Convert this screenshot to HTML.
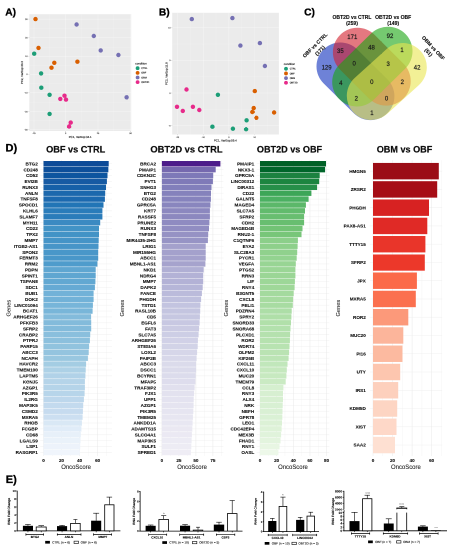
<!DOCTYPE html>
<html><head><meta charset="utf-8"><title>Figure</title>
<style>
html,body{margin:0;padding:0;background:#fff;overflow:hidden;}#wrap{position:relative;width:451px;height:550px;overflow:hidden;}svg.ss{position:absolute;left:0;top:0;display:block;font-family:"Liberation Sans", sans-serif;transform-origin:0 0;transform:scale(0.5);will-change:transform;}
</style></head>
<body>
<div id="wrap"><svg width="902" height="1100" viewBox="0 0 451 550" class="ss">
<defs><filter id="soft" x="0" y="0" width="451" height="550" filterUnits="userSpaceOnUse"><feGaussianBlur stdDeviation="0.38"/></filter></defs>
<rect width="451" height="550" fill="#fff"/>
<g filter="url(#soft)">
<rect width="451" height="550" fill="#fff"/>
<text x="5.30" y="15.70" font-size="10.2" font-weight="bold" text-anchor="start" fill="#000" stroke="#000" stroke-width="0.3">A)</text>
<text x="158.90" y="15.70" font-size="10.2" font-weight="bold" text-anchor="start" fill="#000" stroke="#000" stroke-width="0.3">B)</text>
<text x="304.10" y="15.70" font-size="10.2" font-weight="bold" text-anchor="start" fill="#000" stroke="#000" stroke-width="0.3">C)</text>
<text x="5.50" y="151.40" font-size="11.0" font-weight="bold" text-anchor="start" fill="#000" stroke="#000" stroke-width="0.3">D)</text>
<text x="5.80" y="482.80" font-size="11.0" font-weight="bold" text-anchor="start" fill="#000" stroke="#000" stroke-width="0.3">E)</text>
<rect x="29.3" y="14.2" width="101.90" height="116.80" fill="#ebebeb"/>
<line x1="29.3" x2="131.2" y1="19.10" y2="19.10" stroke="#fff" stroke-width="0.28"/>
<line x1="29.3" x2="131.2" y1="37.80" y2="37.80" stroke="#fff" stroke-width="0.28"/>
<line x1="29.3" x2="131.2" y1="56.20" y2="56.20" stroke="#fff" stroke-width="0.28"/>
<line x1="29.3" x2="131.2" y1="74.40" y2="74.40" stroke="#fff" stroke-width="0.28"/>
<line x1="29.3" x2="131.2" y1="92.80" y2="92.80" stroke="#fff" stroke-width="0.28"/>
<line x1="29.3" x2="131.2" y1="111.50" y2="111.50" stroke="#fff" stroke-width="0.28"/>
<line x1="29.3" x2="131.2" y1="129.70" y2="129.70" stroke="#fff" stroke-width="0.28"/>
<line x1="29.3" x2="131.2" y1="28.45" y2="28.45" stroke="#fff" stroke-width="0.14"/>
<line x1="29.3" x2="131.2" y1="47.15" y2="47.15" stroke="#fff" stroke-width="0.14"/>
<line x1="29.3" x2="131.2" y1="65.55" y2="65.55" stroke="#fff" stroke-width="0.14"/>
<line x1="29.3" x2="131.2" y1="83.75" y2="83.75" stroke="#fff" stroke-width="0.14"/>
<line x1="29.3" x2="131.2" y1="102.15" y2="102.15" stroke="#fff" stroke-width="0.14"/>
<line x1="29.3" x2="131.2" y1="120.85" y2="120.85" stroke="#fff" stroke-width="0.14"/>
<line y1="14.2" y2="131.0" x1="34.00" x2="34.00" stroke="#fff" stroke-width="0.28"/>
<line y1="14.2" y2="131.0" x1="65.60" x2="65.60" stroke="#fff" stroke-width="0.28"/>
<line y1="14.2" y2="131.0" x1="98.00" x2="98.00" stroke="#fff" stroke-width="0.28"/>
<line y1="14.2" y2="131.0" x1="130.60" x2="130.60" stroke="#fff" stroke-width="0.28"/>
<line y1="14.2" y2="131.0" x1="49.80" x2="49.80" stroke="#fff" stroke-width="0.14"/>
<line y1="14.2" y2="131.0" x1="81.40" x2="81.40" stroke="#fff" stroke-width="0.14"/>
<line y1="14.2" y2="131.0" x1="113.80" x2="113.80" stroke="#fff" stroke-width="0.14"/>
<circle cx="35.5" cy="19.1" r="2.2" fill="#d95f02"/>
<circle cx="38.5" cy="47.9" r="2.2" fill="#d95f02"/>
<circle cx="54.3" cy="62.8" r="2.2" fill="#d95f02"/>
<circle cx="51.5" cy="67.7" r="2.2" fill="#d95f02"/>
<circle cx="77.4" cy="61.7" r="2.2" fill="#d95f02"/>
<circle cx="76.6" cy="24.5" r="2.2" fill="#7570b3"/>
<circle cx="93.8" cy="36.0" r="2.2" fill="#7570b3"/>
<circle cx="100.7" cy="50.4" r="2.2" fill="#7570b3"/>
<circle cx="118.4" cy="55.0" r="2.2" fill="#7570b3"/>
<circle cx="126.6" cy="97.3" r="2.2" fill="#7570b3"/>
<circle cx="34.2" cy="53.7" r="2.2" fill="#1b9e77"/>
<circle cx="41.1" cy="73.4" r="2.2" fill="#1b9e77"/>
<circle cx="41.3" cy="87.7" r="2.2" fill="#1b9e77"/>
<circle cx="49.6" cy="94.8" r="2.2" fill="#1b9e77"/>
<circle cx="49.6" cy="113.9" r="2.2" fill="#1b9e77"/>
<circle cx="64.5" cy="95.7" r="2.2" fill="#e7298a"/>
<circle cx="60.3" cy="98.9" r="2.2" fill="#e7298a"/>
<circle cx="66.0" cy="99.6" r="2.2" fill="#e7298a"/>
<circle cx="70.7" cy="122.6" r="2.2" fill="#e7298a"/>
<circle cx="69.1" cy="126.5" r="2.2" fill="#e7298a"/>
<text x="27.60" y="19.89" font-size="2.2" font-weight="normal" text-anchor="end" fill="#333" stroke="#333" stroke-width="0.08" text-rendering="geometricPrecision">30</text>
<line x1="28.6" x2="29.3" y1="19.1" y2="19.1" stroke="#555" stroke-width="0.25"/>
<text x="27.60" y="38.59" font-size="2.2" font-weight="normal" text-anchor="end" fill="#333" stroke="#333" stroke-width="0.08" text-rendering="geometricPrecision">20</text>
<line x1="28.6" x2="29.3" y1="37.8" y2="37.8" stroke="#555" stroke-width="0.25"/>
<text x="27.60" y="56.99" font-size="2.2" font-weight="normal" text-anchor="end" fill="#333" stroke="#333" stroke-width="0.08" text-rendering="geometricPrecision">10</text>
<line x1="28.6" x2="29.3" y1="56.2" y2="56.2" stroke="#555" stroke-width="0.25"/>
<text x="27.60" y="75.19" font-size="2.2" font-weight="normal" text-anchor="end" fill="#333" stroke="#333" stroke-width="0.08" text-rendering="geometricPrecision">0</text>
<line x1="28.6" x2="29.3" y1="74.4" y2="74.4" stroke="#555" stroke-width="0.25"/>
<text x="27.60" y="93.59" font-size="2.2" font-weight="normal" text-anchor="end" fill="#333" stroke="#333" stroke-width="0.08" text-rendering="geometricPrecision">-10</text>
<line x1="28.6" x2="29.3" y1="92.8" y2="92.8" stroke="#555" stroke-width="0.25"/>
<text x="27.60" y="112.29" font-size="2.2" font-weight="normal" text-anchor="end" fill="#333" stroke="#333" stroke-width="0.08" text-rendering="geometricPrecision">-20</text>
<line x1="28.6" x2="29.3" y1="111.5" y2="111.5" stroke="#555" stroke-width="0.25"/>
<text x="27.60" y="130.49" font-size="2.2" font-weight="normal" text-anchor="end" fill="#333" stroke="#333" stroke-width="0.08" text-rendering="geometricPrecision">-30</text>
<line x1="28.6" x2="29.3" y1="129.7" y2="129.7" stroke="#555" stroke-width="0.25"/>
<text x="34.00" y="134.09" font-size="2.2" font-weight="normal" text-anchor="middle" fill="#333" stroke="#333" stroke-width="0.08" text-rendering="geometricPrecision">-25</text>
<line y1="131.7" y2="131.0" x1="34" x2="34" stroke="#555" stroke-width="0.25"/>
<text x="65.60" y="134.09" font-size="2.2" font-weight="normal" text-anchor="middle" fill="#333" stroke="#333" stroke-width="0.08" text-rendering="geometricPrecision">0</text>
<line y1="131.7" y2="131.0" x1="65.6" x2="65.6" stroke="#555" stroke-width="0.25"/>
<text x="98.00" y="134.09" font-size="2.2" font-weight="normal" text-anchor="middle" fill="#333" stroke="#333" stroke-width="0.08" text-rendering="geometricPrecision">25</text>
<line y1="131.7" y2="131.0" x1="98" x2="98" stroke="#555" stroke-width="0.25"/>
<text x="130.60" y="134.09" font-size="2.2" font-weight="normal" text-anchor="middle" fill="#333" stroke="#333" stroke-width="0.08" text-rendering="geometricPrecision">50</text>
<line y1="131.7" y2="131.0" x1="130.6" x2="130.6" stroke="#555" stroke-width="0.25"/>
<text x="80.20" y="138.24" font-size="2.9" font-weight="normal" text-anchor="middle" fill="#111" stroke="#111" stroke-width="0.1" text-rendering="geometricPrecision">PC1, VarExp:34.1</text>
<text x="23.20" y="72.60" font-size="2.9" font-weight="normal" text-anchor="middle" fill="#111" transform="rotate(-90 23.20 72.60)" stroke="#111" stroke-width="0.1" text-rendering="geometricPrecision">PC2, VarExp:30.3</text>
<text x="135.30" y="64.42" font-size="2.85" font-weight="normal" text-anchor="start" fill="#111" stroke="#111" stroke-width="0.1" text-rendering="geometricPrecision">condition</text>
<circle cx="137.6" cy="68.20" r="1.9" fill="#1b9e77"/>
<text x="141.30" y="69.06" font-size="2.4" font-weight="normal" text-anchor="start" fill="#111" stroke="#111" stroke-width="0.1" text-rendering="geometricPrecision">CTRL</text>
<circle cx="137.6" cy="72.85" r="1.9" fill="#d95f02"/>
<text x="141.30" y="73.71" font-size="2.4" font-weight="normal" text-anchor="start" fill="#111" stroke="#111" stroke-width="0.1" text-rendering="geometricPrecision">OBF</text>
<circle cx="137.6" cy="77.50" r="1.9" fill="#7570b3"/>
<text x="141.30" y="78.36" font-size="2.4" font-weight="normal" text-anchor="start" fill="#111" stroke="#111" stroke-width="0.1" text-rendering="geometricPrecision">OBM</text>
<circle cx="137.6" cy="82.15" r="1.9" fill="#e7298a"/>
<text x="141.30" y="83.01" font-size="2.4" font-weight="normal" text-anchor="start" fill="#111" stroke="#111" stroke-width="0.1" text-rendering="geometricPrecision">OBT2D</text>
<rect x="172.2" y="12.8" width="106.70" height="121.70" fill="#ebebeb"/>
<line x1="172.2" x2="278.9" y1="27.80" y2="27.80" stroke="#fff" stroke-width="0.28"/>
<line x1="172.2" x2="278.9" y1="60.30" y2="60.30" stroke="#fff" stroke-width="0.28"/>
<line x1="172.2" x2="278.9" y1="93.00" y2="93.00" stroke="#fff" stroke-width="0.28"/>
<line x1="172.2" x2="278.9" y1="125.60" y2="125.60" stroke="#fff" stroke-width="0.28"/>
<line x1="172.2" x2="278.9" y1="44.05" y2="44.05" stroke="#fff" stroke-width="0.14"/>
<line x1="172.2" x2="278.9" y1="76.55" y2="76.55" stroke="#fff" stroke-width="0.14"/>
<line x1="172.2" x2="278.9" y1="109.25" y2="109.25" stroke="#fff" stroke-width="0.14"/>
<line y1="12.8" y2="134.5" x1="177.50" x2="177.50" stroke="#fff" stroke-width="0.28"/>
<line y1="12.8" y2="134.5" x1="203.20" x2="203.20" stroke="#fff" stroke-width="0.28"/>
<line y1="12.8" y2="134.5" x1="228.90" x2="228.90" stroke="#fff" stroke-width="0.28"/>
<line y1="12.8" y2="134.5" x1="254.60" x2="254.60" stroke="#fff" stroke-width="0.28"/>
<line y1="12.8" y2="134.5" x1="190.35" x2="190.35" stroke="#fff" stroke-width="0.14"/>
<line y1="12.8" y2="134.5" x1="216.05" x2="216.05" stroke="#fff" stroke-width="0.14"/>
<line y1="12.8" y2="134.5" x1="241.75" x2="241.75" stroke="#fff" stroke-width="0.14"/>
<line y1="12.8" y2="134.5" x1="267.45" x2="267.45" stroke="#fff" stroke-width="0.14"/>
<circle cx="191.8" cy="19.1" r="2.2" fill="#7570b3"/>
<circle cx="232.4" cy="18.1" r="2.2" fill="#7570b3"/>
<circle cx="240.4" cy="45.6" r="2.2" fill="#7570b3"/>
<circle cx="259.9" cy="43.1" r="2.2" fill="#7570b3"/>
<circle cx="264.9" cy="66.0" r="2.2" fill="#7570b3"/>
<circle cx="186.5" cy="89.5" r="2.2" fill="#e7298a"/>
<circle cx="177.0" cy="106.8" r="2.2" fill="#e7298a"/>
<circle cx="182.8" cy="110.9" r="2.2" fill="#e7298a"/>
<circle cx="192.9" cy="106.8" r="2.2" fill="#e7298a"/>
<circle cx="199.3" cy="110.0" r="2.2" fill="#e7298a"/>
<circle cx="217.9" cy="94.8" r="2.2" fill="#1b9e77"/>
<circle cx="212.4" cy="126.7" r="2.2" fill="#1b9e77"/>
<circle cx="246.6" cy="120.3" r="2.2" fill="#1b9e77"/>
<circle cx="232.9" cy="128.7" r="2.2" fill="#1b9e77"/>
<circle cx="246.1" cy="129.2" r="2.2" fill="#1b9e77"/>
<circle cx="254.8" cy="91.1" r="2.2" fill="#d95f02"/>
<circle cx="253.7" cy="108.1" r="2.2" fill="#d95f02"/>
<circle cx="252.3" cy="112.0" r="2.2" fill="#d95f02"/>
<circle cx="256.3" cy="117.8" r="2.2" fill="#d95f02"/>
<circle cx="274.1" cy="112.5" r="2.2" fill="#d95f02"/>
<text x="170.60" y="28.59" font-size="2.2" font-weight="normal" text-anchor="end" fill="#333" stroke="#333" stroke-width="0.08" text-rendering="geometricPrecision">10</text>
<line x1="171.5" x2="172.2" y1="27.8" y2="27.8" stroke="#555" stroke-width="0.25"/>
<text x="170.60" y="61.09" font-size="2.2" font-weight="normal" text-anchor="end" fill="#333" stroke="#333" stroke-width="0.08" text-rendering="geometricPrecision">5</text>
<line x1="171.5" x2="172.2" y1="60.3" y2="60.3" stroke="#555" stroke-width="0.25"/>
<text x="170.60" y="93.79" font-size="2.2" font-weight="normal" text-anchor="end" fill="#333" stroke="#333" stroke-width="0.08" text-rendering="geometricPrecision">0</text>
<line x1="171.5" x2="172.2" y1="93.0" y2="93.0" stroke="#555" stroke-width="0.25"/>
<text x="170.60" y="126.39" font-size="2.2" font-weight="normal" text-anchor="end" fill="#333" stroke="#333" stroke-width="0.08" text-rendering="geometricPrecision">-5</text>
<line x1="171.5" x2="172.2" y1="125.6" y2="125.6" stroke="#555" stroke-width="0.25"/>
<text x="177.50" y="138.09" font-size="2.2" font-weight="normal" text-anchor="middle" fill="#333" stroke="#333" stroke-width="0.08" text-rendering="geometricPrecision">-20</text>
<line y1="135.2" y2="134.5" x1="177.5" x2="177.5" stroke="#555" stroke-width="0.25"/>
<text x="203.20" y="138.09" font-size="2.2" font-weight="normal" text-anchor="middle" fill="#333" stroke="#333" stroke-width="0.08" text-rendering="geometricPrecision">-10</text>
<line y1="135.2" y2="134.5" x1="203.2" x2="203.2" stroke="#555" stroke-width="0.25"/>
<text x="228.90" y="138.09" font-size="2.2" font-weight="normal" text-anchor="middle" fill="#333" stroke="#333" stroke-width="0.08" text-rendering="geometricPrecision">0</text>
<line y1="135.2" y2="134.5" x1="228.9" x2="228.9" stroke="#555" stroke-width="0.25"/>
<text x="254.60" y="138.09" font-size="2.2" font-weight="normal" text-anchor="middle" fill="#333" stroke="#333" stroke-width="0.08" text-rendering="geometricPrecision">10</text>
<line y1="135.2" y2="134.5" x1="254.6" x2="254.6" stroke="#555" stroke-width="0.25"/>
<text x="225.30" y="141.44" font-size="2.9" font-weight="normal" text-anchor="middle" fill="#111" stroke="#111" stroke-width="0.1" text-rendering="geometricPrecision">PC1, VarExp:59.4</text>
<text x="167.30" y="73.65" font-size="2.9" font-weight="normal" text-anchor="middle" fill="#111" transform="rotate(-90 167.30 73.65)" stroke="#111" stroke-width="0.1" text-rendering="geometricPrecision">PC2, VarExp:11.8</text>
<text x="283.70" y="65.02" font-size="2.85" font-weight="normal" text-anchor="start" fill="#111" stroke="#111" stroke-width="0.1" text-rendering="geometricPrecision">condition</text>
<circle cx="286.0" cy="68.80" r="1.9" fill="#1b9e77"/>
<text x="289.70" y="69.66" font-size="2.4" font-weight="normal" text-anchor="start" fill="#111" stroke="#111" stroke-width="0.1" text-rendering="geometricPrecision">CTRL</text>
<circle cx="286.0" cy="73.45" r="1.9" fill="#d95f02"/>
<text x="289.70" y="74.31" font-size="2.4" font-weight="normal" text-anchor="start" fill="#111" stroke="#111" stroke-width="0.1" text-rendering="geometricPrecision">OBF</text>
<circle cx="286.0" cy="78.10" r="1.9" fill="#7570b3"/>
<text x="289.70" y="78.96" font-size="2.4" font-weight="normal" text-anchor="start" fill="#111" stroke="#111" stroke-width="0.1" text-rendering="geometricPrecision">OBM</text>
<circle cx="286.0" cy="82.75" r="1.9" fill="#e7298a"/>
<text x="289.70" y="83.61" font-size="2.4" font-weight="normal" text-anchor="start" fill="#111" stroke="#111" stroke-width="0.1" text-rendering="geometricPrecision">OBT2D</text>
<rect x="310.37" y="57.40" width="90.16" height="47.8" rx="23.9" ry="23.9" transform="rotate(44.71 355.45 81.30)" fill="#0d2fbc" fill-opacity="0.6"/>
<rect x="326.94" y="42.20" width="89.73" height="49.0" rx="24.5" ry="24.5" transform="rotate(45.00 371.80 66.70)" fill="#d21e2b" fill-opacity="0.6"/>
<rect x="325.89" y="42.10" width="92.91" height="49.0" rx="24.5" ry="24.5" transform="rotate(135.46 372.35 66.60)" fill="#19a50f" fill-opacity="0.6"/>
<rect x="341.29" y="57.30" width="91.02" height="48.4" rx="24.2" ry="24.2" transform="rotate(137.85 386.80 81.50)" fill="#e9e650" fill-opacity="0.6"/>
<text x="352.30" y="38.85" font-size="6.0" font-weight="normal" text-anchor="middle" fill="#1a1a1a" stroke="#1a1a1a" stroke-width="0.18">171</text>
<text x="390.00" y="38.15" font-size="6.0" font-weight="normal" text-anchor="middle" fill="#1a1a1a" stroke="#1a1a1a" stroke-width="0.18">92</text>
<text x="340.40" y="53.05" font-size="6.0" font-weight="normal" text-anchor="middle" fill="#1a1a1a" stroke="#1a1a1a" stroke-width="0.18">35</text>
<text x="371.50" y="49.65" font-size="6.0" font-weight="normal" text-anchor="middle" fill="#1a1a1a" stroke="#1a1a1a" stroke-width="0.18">48</text>
<text x="402.00" y="51.75" font-size="6.0" font-weight="normal" text-anchor="middle" fill="#1a1a1a" stroke="#1a1a1a" stroke-width="0.18">1</text>
<text x="326.60" y="69.55" font-size="6.0" font-weight="normal" text-anchor="middle" fill="#1a1a1a" stroke="#1a1a1a" stroke-width="0.18">129</text>
<text x="354.20" y="65.25" font-size="6.0" font-weight="normal" text-anchor="middle" fill="#1a1a1a" stroke="#1a1a1a" stroke-width="0.18">0</text>
<text x="388.20" y="65.85" font-size="6.0" font-weight="normal" text-anchor="middle" fill="#1a1a1a" stroke="#1a1a1a" stroke-width="0.18">3</text>
<text x="417.10" y="69.55" font-size="6.0" font-weight="normal" text-anchor="middle" fill="#1a1a1a" stroke="#1a1a1a" stroke-width="0.18">42</text>
<text x="340.80" y="84.75" font-size="6.0" font-weight="normal" text-anchor="middle" fill="#1a1a1a" stroke="#1a1a1a" stroke-width="0.18">4</text>
<text x="371.80" y="83.95" font-size="6.0" font-weight="normal" text-anchor="middle" fill="#1a1a1a" stroke="#1a1a1a" stroke-width="0.18">0</text>
<text x="402.30" y="83.85" font-size="6.0" font-weight="normal" text-anchor="middle" fill="#1a1a1a" stroke="#1a1a1a" stroke-width="0.18">2</text>
<text x="356.30" y="100.55" font-size="6.0" font-weight="normal" text-anchor="middle" fill="#1a1a1a" stroke="#1a1a1a" stroke-width="0.18">2</text>
<text x="386.50" y="100.55" font-size="6.0" font-weight="normal" text-anchor="middle" fill="#1a1a1a" stroke="#1a1a1a" stroke-width="0.18">0</text>
<text x="371.90" y="114.75" font-size="6.0" font-weight="normal" text-anchor="middle" fill="#1a1a1a" stroke="#1a1a1a" stroke-width="0.18">1</text>
<text x="352.00" y="19.01" font-size="5.05" font-weight="bold" text-anchor="middle" fill="#111" stroke="#111" stroke-width="0.12">OBT2D vs CTRL</text>
<text x="352.00" y="24.81" font-size="5.05" font-weight="bold" text-anchor="middle" fill="#111" stroke="#111" stroke-width="0.12">(259)</text>
<text x="393.20" y="19.01" font-size="5.05" font-weight="bold" text-anchor="middle" fill="#111" stroke="#111" stroke-width="0.12">OBT2D vs OBF</text>
<text x="393.20" y="24.81" font-size="5.05" font-weight="bold" text-anchor="middle" fill="#111" stroke="#111" stroke-width="0.12">(149)</text>
<text x="0" y="1.81" font-size="5.05" font-weight="bold" text-anchor="middle" fill="#111" stroke="#111" stroke-width="0.12" transform="translate(315.0 45.2) rotate(-45)">OBF vs CTRL</text>
<text x="0" y="1.81" font-size="5.05" font-weight="bold" text-anchor="middle" fill="#111" stroke="#111" stroke-width="0.12" transform="translate(319.9 50.5) rotate(-45)">(171)</text>
<text x="0" y="1.81" font-size="5.05" font-weight="bold" text-anchor="middle" fill="#111" stroke="#111" stroke-width="0.12" transform="translate(433.4 47.9) rotate(47)">OBM vs OBF</text>
<text x="0" y="1.81" font-size="5.05" font-weight="bold" text-anchor="middle" fill="#111" stroke="#111" stroke-width="0.12" transform="translate(428.6 52.3) rotate(47)">(51)</text>
<text x="75.70" y="152.49" font-size="9.2" font-weight="bold" text-anchor="middle" fill="#111" stroke="#111" stroke-width="0.2">OBF vs CTRL</text>
<line x1="43.50" x2="43.50" y1="160.2" y2="456.0" stroke="#e4e4e4" stroke-width="0.4"/>
<line x1="52.52" x2="52.52" y1="160.2" y2="456.0" stroke="#ececec" stroke-width="0.25"/>
<text x="43.50" y="462.05" font-size="4.6" font-weight="bold" text-anchor="middle" fill="#111" stroke="#111" stroke-width="0.1">0</text>
<line x1="61.55" x2="61.55" y1="160.2" y2="456.0" stroke="#e4e4e4" stroke-width="0.4"/>
<line x1="70.58" x2="70.58" y1="160.2" y2="456.0" stroke="#ececec" stroke-width="0.25"/>
<text x="61.55" y="462.05" font-size="4.6" font-weight="bold" text-anchor="middle" fill="#111" stroke="#111" stroke-width="0.1">20</text>
<line x1="79.60" x2="79.60" y1="160.2" y2="456.0" stroke="#e4e4e4" stroke-width="0.4"/>
<line x1="88.62" x2="88.62" y1="160.2" y2="456.0" stroke="#ececec" stroke-width="0.25"/>
<text x="79.60" y="462.05" font-size="4.6" font-weight="bold" text-anchor="middle" fill="#111" stroke="#111" stroke-width="0.1">40</text>
<line x1="97.65" x2="97.65" y1="160.2" y2="456.0" stroke="#e4e4e4" stroke-width="0.4"/>
<line x1="106.68" x2="106.68" y1="160.2" y2="456.0" stroke="#ececec" stroke-width="0.25"/>
<text x="97.65" y="462.05" font-size="4.6" font-weight="bold" text-anchor="middle" fill="#111" stroke="#111" stroke-width="0.1">60</text>
<line x1="40.24" x2="111.96" y1="163.74" y2="163.74" stroke="#e8e8e8" stroke-width="0.3"/>
<line x1="40.24" x2="111.96" y1="169.63" y2="169.63" stroke="#e8e8e8" stroke-width="0.3"/>
<line x1="40.24" x2="111.96" y1="175.52" y2="175.52" stroke="#e8e8e8" stroke-width="0.3"/>
<line x1="40.24" x2="111.96" y1="181.41" y2="181.41" stroke="#e8e8e8" stroke-width="0.3"/>
<line x1="40.24" x2="111.96" y1="187.31" y2="187.31" stroke="#e8e8e8" stroke-width="0.3"/>
<line x1="40.24" x2="111.96" y1="193.20" y2="193.20" stroke="#e8e8e8" stroke-width="0.3"/>
<line x1="40.24" x2="111.96" y1="199.09" y2="199.09" stroke="#e8e8e8" stroke-width="0.3"/>
<line x1="40.24" x2="111.96" y1="204.98" y2="204.98" stroke="#e8e8e8" stroke-width="0.3"/>
<line x1="40.24" x2="111.96" y1="210.87" y2="210.87" stroke="#e8e8e8" stroke-width="0.3"/>
<line x1="40.24" x2="111.96" y1="216.77" y2="216.77" stroke="#e8e8e8" stroke-width="0.3"/>
<line x1="40.24" x2="111.96" y1="222.66" y2="222.66" stroke="#e8e8e8" stroke-width="0.3"/>
<line x1="40.24" x2="111.96" y1="228.55" y2="228.55" stroke="#e8e8e8" stroke-width="0.3"/>
<line x1="40.24" x2="111.96" y1="234.44" y2="234.44" stroke="#e8e8e8" stroke-width="0.3"/>
<line x1="40.24" x2="111.96" y1="240.34" y2="240.34" stroke="#e8e8e8" stroke-width="0.3"/>
<line x1="40.24" x2="111.96" y1="246.23" y2="246.23" stroke="#e8e8e8" stroke-width="0.3"/>
<line x1="40.24" x2="111.96" y1="252.12" y2="252.12" stroke="#e8e8e8" stroke-width="0.3"/>
<line x1="40.24" x2="111.96" y1="258.01" y2="258.01" stroke="#e8e8e8" stroke-width="0.3"/>
<line x1="40.24" x2="111.96" y1="263.91" y2="263.91" stroke="#e8e8e8" stroke-width="0.3"/>
<line x1="40.24" x2="111.96" y1="269.80" y2="269.80" stroke="#e8e8e8" stroke-width="0.3"/>
<line x1="40.24" x2="111.96" y1="275.69" y2="275.69" stroke="#e8e8e8" stroke-width="0.3"/>
<line x1="40.24" x2="111.96" y1="281.58" y2="281.58" stroke="#e8e8e8" stroke-width="0.3"/>
<line x1="40.24" x2="111.96" y1="287.48" y2="287.48" stroke="#e8e8e8" stroke-width="0.3"/>
<line x1="40.24" x2="111.96" y1="293.37" y2="293.37" stroke="#e8e8e8" stroke-width="0.3"/>
<line x1="40.24" x2="111.96" y1="299.26" y2="299.26" stroke="#e8e8e8" stroke-width="0.3"/>
<line x1="40.24" x2="111.96" y1="305.15" y2="305.15" stroke="#e8e8e8" stroke-width="0.3"/>
<line x1="40.24" x2="111.96" y1="311.05" y2="311.05" stroke="#e8e8e8" stroke-width="0.3"/>
<line x1="40.24" x2="111.96" y1="316.94" y2="316.94" stroke="#e8e8e8" stroke-width="0.3"/>
<line x1="40.24" x2="111.96" y1="322.83" y2="322.83" stroke="#e8e8e8" stroke-width="0.3"/>
<line x1="40.24" x2="111.96" y1="328.72" y2="328.72" stroke="#e8e8e8" stroke-width="0.3"/>
<line x1="40.24" x2="111.96" y1="334.62" y2="334.62" stroke="#e8e8e8" stroke-width="0.3"/>
<line x1="40.24" x2="111.96" y1="340.51" y2="340.51" stroke="#e8e8e8" stroke-width="0.3"/>
<line x1="40.24" x2="111.96" y1="346.40" y2="346.40" stroke="#e8e8e8" stroke-width="0.3"/>
<line x1="40.24" x2="111.96" y1="352.29" y2="352.29" stroke="#e8e8e8" stroke-width="0.3"/>
<line x1="40.24" x2="111.96" y1="358.19" y2="358.19" stroke="#e8e8e8" stroke-width="0.3"/>
<line x1="40.24" x2="111.96" y1="364.08" y2="364.08" stroke="#e8e8e8" stroke-width="0.3"/>
<line x1="40.24" x2="111.96" y1="369.97" y2="369.97" stroke="#e8e8e8" stroke-width="0.3"/>
<line x1="40.24" x2="111.96" y1="375.86" y2="375.86" stroke="#e8e8e8" stroke-width="0.3"/>
<line x1="40.24" x2="111.96" y1="381.76" y2="381.76" stroke="#e8e8e8" stroke-width="0.3"/>
<line x1="40.24" x2="111.96" y1="387.65" y2="387.65" stroke="#e8e8e8" stroke-width="0.3"/>
<line x1="40.24" x2="111.96" y1="393.54" y2="393.54" stroke="#e8e8e8" stroke-width="0.3"/>
<line x1="40.24" x2="111.96" y1="399.43" y2="399.43" stroke="#e8e8e8" stroke-width="0.3"/>
<line x1="40.24" x2="111.96" y1="405.33" y2="405.33" stroke="#e8e8e8" stroke-width="0.3"/>
<line x1="40.24" x2="111.96" y1="411.22" y2="411.22" stroke="#e8e8e8" stroke-width="0.3"/>
<line x1="40.24" x2="111.96" y1="417.11" y2="417.11" stroke="#e8e8e8" stroke-width="0.3"/>
<line x1="40.24" x2="111.96" y1="423.00" y2="423.00" stroke="#e8e8e8" stroke-width="0.3"/>
<line x1="40.24" x2="111.96" y1="428.89" y2="428.89" stroke="#e8e8e8" stroke-width="0.3"/>
<line x1="40.24" x2="111.96" y1="434.79" y2="434.79" stroke="#e8e8e8" stroke-width="0.3"/>
<line x1="40.24" x2="111.96" y1="440.68" y2="440.68" stroke="#e8e8e8" stroke-width="0.3"/>
<line x1="40.24" x2="111.96" y1="446.57" y2="446.57" stroke="#e8e8e8" stroke-width="0.3"/>
<line x1="40.24" x2="111.96" y1="452.46" y2="452.46" stroke="#e8e8e8" stroke-width="0.3"/>
<rect x="43.50" y="161.01" width="65.20" height="5.45" fill="#0a4c98"/>
<text x="37.80" y="165.38" font-size="4.6" font-weight="bold" text-anchor="end" fill="#111" stroke="#111" stroke-width="0.1">BTG2</text>
<rect x="43.50" y="166.90" width="64.85" height="5.45" fill="#0c4f9a"/>
<text x="37.80" y="171.27" font-size="4.6" font-weight="bold" text-anchor="end" fill="#111" stroke="#111" stroke-width="0.1">CD248</text>
<rect x="43.50" y="172.80" width="64.00" height="5.45" fill="#10559f"/>
<text x="37.80" y="177.17" font-size="4.6" font-weight="bold" text-anchor="end" fill="#111" stroke="#111" stroke-width="0.1">CD52</text>
<rect x="43.50" y="178.69" width="63.40" height="5.45" fill="#135aa3"/>
<text x="37.80" y="183.06" font-size="4.6" font-weight="bold" text-anchor="end" fill="#111" stroke="#111" stroke-width="0.1">EVI2B</text>
<rect x="43.50" y="184.58" width="62.50" height="5.45" fill="#1761a8"/>
<text x="37.80" y="188.95" font-size="4.6" font-weight="bold" text-anchor="end" fill="#111" stroke="#111" stroke-width="0.1">RUNX3</text>
<rect x="43.50" y="190.47" width="61.70" height="5.45" fill="#1b67ad"/>
<text x="37.80" y="194.84" font-size="4.6" font-weight="bold" text-anchor="end" fill="#111" stroke="#111" stroke-width="0.1">ANLN</text>
<rect x="43.50" y="196.36" width="61.40" height="5.45" fill="#1c69af"/>
<text x="37.80" y="200.74" font-size="4.6" font-weight="bold" text-anchor="end" fill="#111" stroke="#111" stroke-width="0.1">TNFSF8</text>
<rect x="43.50" y="202.26" width="60.00" height="5.45" fill="#2474b6"/>
<text x="37.80" y="206.63" font-size="4.6" font-weight="bold" text-anchor="end" fill="#111" stroke="#111" stroke-width="0.1">SPOCD1</text>
<rect x="43.50" y="208.15" width="58.90" height="5.45" fill="#2b7bba"/>
<text x="37.80" y="212.52" font-size="4.6" font-weight="bold" text-anchor="end" fill="#111" stroke="#111" stroke-width="0.1">KLHL6</text>
<rect x="43.50" y="214.04" width="58.90" height="5.45" fill="#2b7bba"/>
<text x="37.80" y="218.41" font-size="4.6" font-weight="bold" text-anchor="end" fill="#111" stroke="#111" stroke-width="0.1">SLAMF7</text>
<rect x="43.50" y="219.93" width="56.70" height="5.45" fill="#3a8ac2"/>
<text x="37.80" y="224.31" font-size="4.6" font-weight="bold" text-anchor="end" fill="#111" stroke="#111" stroke-width="0.1">MYH11</text>
<rect x="43.50" y="225.83" width="55.50" height="5.45" fill="#4393c6"/>
<text x="37.80" y="230.20" font-size="4.6" font-weight="bold" text-anchor="end" fill="#111" stroke="#111" stroke-width="0.1">CD22</text>
<rect x="43.50" y="231.72" width="55.50" height="5.45" fill="#4393c6"/>
<text x="37.80" y="236.09" font-size="4.6" font-weight="bold" text-anchor="end" fill="#111" stroke="#111" stroke-width="0.1">TPX2</text>
<rect x="43.50" y="237.61" width="55.20" height="5.45" fill="#4594c7"/>
<text x="37.80" y="241.98" font-size="4.6" font-weight="bold" text-anchor="end" fill="#111" stroke="#111" stroke-width="0.1">MMP7</text>
<rect x="43.50" y="243.50" width="55.00" height="5.45" fill="#4795c8"/>
<text x="37.80" y="247.88" font-size="4.6" font-weight="bold" text-anchor="end" fill="#111" stroke="#111" stroke-width="0.1">ITGB2-AS1</text>
<rect x="43.50" y="249.40" width="54.70" height="5.45" fill="#4a97c9"/>
<text x="37.80" y="253.77" font-size="4.6" font-weight="bold" text-anchor="end" fill="#111" stroke="#111" stroke-width="0.1">SPON2</text>
<rect x="43.50" y="255.29" width="54.70" height="5.45" fill="#4a97c9"/>
<text x="37.80" y="259.66" font-size="4.6" font-weight="bold" text-anchor="end" fill="#111" stroke="#111" stroke-width="0.1">FERMT3</text>
<rect x="43.50" y="261.18" width="53.90" height="5.45" fill="#509ccc"/>
<text x="37.80" y="265.55" font-size="4.6" font-weight="bold" text-anchor="end" fill="#111" stroke="#111" stroke-width="0.1">RRM2</text>
<rect x="43.50" y="267.07" width="52.20" height="5.45" fill="#5fa6d1"/>
<text x="37.80" y="271.45" font-size="4.6" font-weight="bold" text-anchor="end" fill="#111" stroke="#111" stroke-width="0.1">PDPN</text>
<rect x="43.50" y="272.97" width="52.20" height="5.45" fill="#5fa6d1"/>
<text x="37.80" y="277.34" font-size="4.6" font-weight="bold" text-anchor="end" fill="#111" stroke="#111" stroke-width="0.1">SPINT1</text>
<rect x="43.50" y="278.86" width="51.90" height="5.45" fill="#62a8d2"/>
<text x="37.80" y="283.23" font-size="4.6" font-weight="bold" text-anchor="end" fill="#111" stroke="#111" stroke-width="0.1">TSPAN8</text>
<rect x="43.50" y="284.75" width="51.40" height="5.45" fill="#66aad4"/>
<text x="37.80" y="289.12" font-size="4.6" font-weight="bold" text-anchor="end" fill="#111" stroke="#111" stroke-width="0.1">SDC1</text>
<rect x="43.50" y="290.64" width="50.10" height="5.45" fill="#72b2d8"/>
<text x="37.80" y="295.02" font-size="4.6" font-weight="bold" text-anchor="end" fill="#111" stroke="#111" stroke-width="0.1">BUB1</text>
<rect x="43.50" y="296.54" width="50.10" height="5.45" fill="#72b2d8"/>
<text x="37.80" y="300.91" font-size="4.6" font-weight="bold" text-anchor="end" fill="#111" stroke="#111" stroke-width="0.1">DOK2</text>
<rect x="43.50" y="302.43" width="49.40" height="5.45" fill="#77b5d9"/>
<text x="37.80" y="306.80" font-size="4.6" font-weight="bold" text-anchor="end" fill="#111" stroke="#111" stroke-width="0.1">LINC01094</text>
<rect x="43.50" y="308.32" width="49.10" height="5.45" fill="#79b6d9"/>
<text x="37.80" y="312.69" font-size="4.6" font-weight="bold" text-anchor="end" fill="#111" stroke="#111" stroke-width="0.1">BCAT1</text>
<rect x="43.50" y="314.21" width="47.60" height="5.45" fill="#83bbdb"/>
<text x="37.80" y="318.59" font-size="4.6" font-weight="bold" text-anchor="end" fill="#111" stroke="#111" stroke-width="0.1">ARHGEF26</text>
<rect x="43.50" y="320.11" width="47.70" height="5.45" fill="#83bbdb"/>
<text x="37.80" y="324.48" font-size="4.6" font-weight="bold" text-anchor="end" fill="#111" stroke="#111" stroke-width="0.1">PFKFB3</text>
<rect x="43.50" y="326.00" width="47.70" height="5.45" fill="#83bbdb"/>
<text x="37.80" y="330.37" font-size="4.6" font-weight="bold" text-anchor="end" fill="#111" stroke="#111" stroke-width="0.1">SFRP2</text>
<rect x="43.50" y="331.89" width="46.70" height="5.45" fill="#8abfdd"/>
<text x="37.80" y="336.26" font-size="4.6" font-weight="bold" text-anchor="end" fill="#111" stroke="#111" stroke-width="0.1">CRABP2</text>
<rect x="43.50" y="337.78" width="46.40" height="5.45" fill="#8cc0dd"/>
<text x="37.80" y="342.16" font-size="4.6" font-weight="bold" text-anchor="end" fill="#111" stroke="#111" stroke-width="0.1">PTPRJ</text>
<rect x="43.50" y="343.68" width="45.60" height="5.45" fill="#91c3de"/>
<text x="37.80" y="348.05" font-size="4.6" font-weight="bold" text-anchor="end" fill="#111" stroke="#111" stroke-width="0.1">PARP15</text>
<rect x="43.50" y="349.57" width="45.20" height="5.45" fill="#94c4df"/>
<text x="37.80" y="353.94" font-size="4.6" font-weight="bold" text-anchor="end" fill="#111" stroke="#111" stroke-width="0.1">ABCC3</text>
<rect x="43.50" y="355.46" width="44.40" height="5.45" fill="#99c7e0"/>
<text x="37.80" y="359.83" font-size="4.6" font-weight="bold" text-anchor="end" fill="#111" stroke="#111" stroke-width="0.1">NCAPH</text>
<rect x="43.50" y="361.35" width="42.60" height="5.45" fill="#a4cde3"/>
<text x="37.80" y="365.72" font-size="4.6" font-weight="bold" text-anchor="end" fill="#111" stroke="#111" stroke-width="0.1">HAVCR2</text>
<rect x="43.50" y="367.25" width="42.20" height="5.45" fill="#add1e6"/>
<text x="37.80" y="371.62" font-size="4.6" font-weight="bold" text-anchor="end" fill="#111" stroke="#111" stroke-width="0.1">TMEM100</text>
<rect x="43.50" y="373.14" width="41.90" height="5.45" fill="#b1d2e8"/>
<text x="37.80" y="377.51" font-size="4.6" font-weight="bold" text-anchor="end" fill="#111" stroke="#111" stroke-width="0.1">LAPTM5</text>
<rect x="43.50" y="379.03" width="41.40" height="5.45" fill="#b5d4e9"/>
<text x="37.80" y="383.40" font-size="4.6" font-weight="bold" text-anchor="end" fill="#111" stroke="#111" stroke-width="0.1">KCNJ5</text>
<rect x="43.50" y="384.92" width="41.40" height="5.45" fill="#b5d4e9"/>
<text x="37.80" y="389.29" font-size="4.6" font-weight="bold" text-anchor="end" fill="#111" stroke="#111" stroke-width="0.1">AZGP1</text>
<rect x="43.50" y="390.81" width="41.10" height="5.45" fill="#b7d5ea"/>
<text x="37.80" y="395.19" font-size="4.6" font-weight="bold" text-anchor="end" fill="#111" stroke="#111" stroke-width="0.1">PIK3R5</text>
<rect x="43.50" y="396.71" width="40.40" height="5.45" fill="#bdd7ec"/>
<text x="37.80" y="401.08" font-size="4.6" font-weight="bold" text-anchor="end" fill="#111" stroke="#111" stroke-width="0.1">IL2RG</text>
<rect x="43.50" y="402.60" width="39.70" height="5.45" fill="#c3daee"/>
<text x="37.80" y="406.97" font-size="4.6" font-weight="bold" text-anchor="end" fill="#111" stroke="#111" stroke-width="0.1">MAP3K5</text>
<rect x="43.50" y="408.49" width="39.40" height="5.45" fill="#c6dbef"/>
<text x="37.80" y="412.86" font-size="4.6" font-weight="bold" text-anchor="end" fill="#111" stroke="#111" stroke-width="0.1">CSMD2</text>
<rect x="43.50" y="414.38" width="39.10" height="5.45" fill="#ccdff1"/>
<text x="37.80" y="418.76" font-size="4.6" font-weight="bold" text-anchor="end" fill="#111" stroke="#111" stroke-width="0.1">MXRA5</text>
<rect x="43.50" y="420.28" width="38.40" height="5.45" fill="#d9e8f5"/>
<text x="37.80" y="424.65" font-size="4.6" font-weight="bold" text-anchor="end" fill="#111" stroke="#111" stroke-width="0.1">RHOB</text>
<rect x="43.50" y="426.17" width="37.90" height="5.45" fill="#e0ecf8"/>
<text x="37.80" y="430.54" font-size="4.6" font-weight="bold" text-anchor="end" fill="#111" stroke="#111" stroke-width="0.1">FCGBP</text>
<rect x="43.50" y="432.06" width="37.30" height="5.45" fill="#e7f0f9"/>
<text x="37.80" y="436.43" font-size="4.6" font-weight="bold" text-anchor="end" fill="#111" stroke="#111" stroke-width="0.1">CD68</text>
<rect x="43.50" y="437.95" width="37.00" height="5.45" fill="#eaf2fa"/>
<text x="37.80" y="442.33" font-size="4.6" font-weight="bold" text-anchor="end" fill="#111" stroke="#111" stroke-width="0.1">LGALS9</text>
<rect x="43.50" y="443.85" width="36.70" height="5.45" fill="#edf3fb"/>
<text x="37.80" y="448.22" font-size="4.6" font-weight="bold" text-anchor="end" fill="#111" stroke="#111" stroke-width="0.1">LSP1</text>
<rect x="43.50" y="449.74" width="36.40" height="5.45" fill="#f0f5fc"/>
<text x="37.80" y="454.11" font-size="4.6" font-weight="bold" text-anchor="end" fill="#111" stroke="#111" stroke-width="0.1">RASGRP1</text>
<text x="76.10" y="468.93" font-size="5.95" font-weight="normal" text-anchor="middle" fill="#222" stroke="#222" stroke-width="0.08">OncoScore</text>
<text x="10.40" y="308.10" font-size="5.7" font-weight="normal" text-anchor="middle" fill="#222" transform="rotate(-90 10.40 308.10)" stroke="#222" stroke-width="0.08">Genes</text>
<text x="186.50" y="152.55" font-size="9.35" font-weight="bold" text-anchor="middle" fill="#111" stroke="#111" stroke-width="0.2">OBT2D vs CTRL</text>
<line x1="161.90" x2="161.90" y1="160.2" y2="456.0" stroke="#e4e4e4" stroke-width="0.4"/>
<line x1="170.40" x2="170.40" y1="160.2" y2="456.0" stroke="#ececec" stroke-width="0.25"/>
<text x="161.90" y="462.05" font-size="4.6" font-weight="bold" text-anchor="middle" fill="#111" stroke="#111" stroke-width="0.1">0</text>
<line x1="178.90" x2="178.90" y1="160.2" y2="456.0" stroke="#e4e4e4" stroke-width="0.4"/>
<line x1="187.40" x2="187.40" y1="160.2" y2="456.0" stroke="#ececec" stroke-width="0.25"/>
<text x="178.90" y="462.05" font-size="4.6" font-weight="bold" text-anchor="middle" fill="#111" stroke="#111" stroke-width="0.1">25</text>
<line x1="195.90" x2="195.90" y1="160.2" y2="456.0" stroke="#e4e4e4" stroke-width="0.4"/>
<line x1="204.40" x2="204.40" y1="160.2" y2="456.0" stroke="#ececec" stroke-width="0.25"/>
<text x="195.90" y="462.05" font-size="4.6" font-weight="bold" text-anchor="middle" fill="#111" stroke="#111" stroke-width="0.1">50</text>
<line x1="212.90" x2="212.90" y1="160.2" y2="456.0" stroke="#e4e4e4" stroke-width="0.4"/>
<line x1="221.40" x2="221.40" y1="160.2" y2="456.0" stroke="#ececec" stroke-width="0.25"/>
<text x="212.90" y="462.05" font-size="4.6" font-weight="bold" text-anchor="middle" fill="#111" stroke="#111" stroke-width="0.1">75</text>
<line x1="158.97" x2="223.33" y1="163.74" y2="163.74" stroke="#e8e8e8" stroke-width="0.3"/>
<line x1="158.97" x2="223.33" y1="169.63" y2="169.63" stroke="#e8e8e8" stroke-width="0.3"/>
<line x1="158.97" x2="223.33" y1="175.52" y2="175.52" stroke="#e8e8e8" stroke-width="0.3"/>
<line x1="158.97" x2="223.33" y1="181.41" y2="181.41" stroke="#e8e8e8" stroke-width="0.3"/>
<line x1="158.97" x2="223.33" y1="187.31" y2="187.31" stroke="#e8e8e8" stroke-width="0.3"/>
<line x1="158.97" x2="223.33" y1="193.20" y2="193.20" stroke="#e8e8e8" stroke-width="0.3"/>
<line x1="158.97" x2="223.33" y1="199.09" y2="199.09" stroke="#e8e8e8" stroke-width="0.3"/>
<line x1="158.97" x2="223.33" y1="204.98" y2="204.98" stroke="#e8e8e8" stroke-width="0.3"/>
<line x1="158.97" x2="223.33" y1="210.87" y2="210.87" stroke="#e8e8e8" stroke-width="0.3"/>
<line x1="158.97" x2="223.33" y1="216.77" y2="216.77" stroke="#e8e8e8" stroke-width="0.3"/>
<line x1="158.97" x2="223.33" y1="222.66" y2="222.66" stroke="#e8e8e8" stroke-width="0.3"/>
<line x1="158.97" x2="223.33" y1="228.55" y2="228.55" stroke="#e8e8e8" stroke-width="0.3"/>
<line x1="158.97" x2="223.33" y1="234.44" y2="234.44" stroke="#e8e8e8" stroke-width="0.3"/>
<line x1="158.97" x2="223.33" y1="240.34" y2="240.34" stroke="#e8e8e8" stroke-width="0.3"/>
<line x1="158.97" x2="223.33" y1="246.23" y2="246.23" stroke="#e8e8e8" stroke-width="0.3"/>
<line x1="158.97" x2="223.33" y1="252.12" y2="252.12" stroke="#e8e8e8" stroke-width="0.3"/>
<line x1="158.97" x2="223.33" y1="258.01" y2="258.01" stroke="#e8e8e8" stroke-width="0.3"/>
<line x1="158.97" x2="223.33" y1="263.91" y2="263.91" stroke="#e8e8e8" stroke-width="0.3"/>
<line x1="158.97" x2="223.33" y1="269.80" y2="269.80" stroke="#e8e8e8" stroke-width="0.3"/>
<line x1="158.97" x2="223.33" y1="275.69" y2="275.69" stroke="#e8e8e8" stroke-width="0.3"/>
<line x1="158.97" x2="223.33" y1="281.58" y2="281.58" stroke="#e8e8e8" stroke-width="0.3"/>
<line x1="158.97" x2="223.33" y1="287.48" y2="287.48" stroke="#e8e8e8" stroke-width="0.3"/>
<line x1="158.97" x2="223.33" y1="293.37" y2="293.37" stroke="#e8e8e8" stroke-width="0.3"/>
<line x1="158.97" x2="223.33" y1="299.26" y2="299.26" stroke="#e8e8e8" stroke-width="0.3"/>
<line x1="158.97" x2="223.33" y1="305.15" y2="305.15" stroke="#e8e8e8" stroke-width="0.3"/>
<line x1="158.97" x2="223.33" y1="311.05" y2="311.05" stroke="#e8e8e8" stroke-width="0.3"/>
<line x1="158.97" x2="223.33" y1="316.94" y2="316.94" stroke="#e8e8e8" stroke-width="0.3"/>
<line x1="158.97" x2="223.33" y1="322.83" y2="322.83" stroke="#e8e8e8" stroke-width="0.3"/>
<line x1="158.97" x2="223.33" y1="328.72" y2="328.72" stroke="#e8e8e8" stroke-width="0.3"/>
<line x1="158.97" x2="223.33" y1="334.62" y2="334.62" stroke="#e8e8e8" stroke-width="0.3"/>
<line x1="158.97" x2="223.33" y1="340.51" y2="340.51" stroke="#e8e8e8" stroke-width="0.3"/>
<line x1="158.97" x2="223.33" y1="346.40" y2="346.40" stroke="#e8e8e8" stroke-width="0.3"/>
<line x1="158.97" x2="223.33" y1="352.29" y2="352.29" stroke="#e8e8e8" stroke-width="0.3"/>
<line x1="158.97" x2="223.33" y1="358.19" y2="358.19" stroke="#e8e8e8" stroke-width="0.3"/>
<line x1="158.97" x2="223.33" y1="364.08" y2="364.08" stroke="#e8e8e8" stroke-width="0.3"/>
<line x1="158.97" x2="223.33" y1="369.97" y2="369.97" stroke="#e8e8e8" stroke-width="0.3"/>
<line x1="158.97" x2="223.33" y1="375.86" y2="375.86" stroke="#e8e8e8" stroke-width="0.3"/>
<line x1="158.97" x2="223.33" y1="381.76" y2="381.76" stroke="#e8e8e8" stroke-width="0.3"/>
<line x1="158.97" x2="223.33" y1="387.65" y2="387.65" stroke="#e8e8e8" stroke-width="0.3"/>
<line x1="158.97" x2="223.33" y1="393.54" y2="393.54" stroke="#e8e8e8" stroke-width="0.3"/>
<line x1="158.97" x2="223.33" y1="399.43" y2="399.43" stroke="#e8e8e8" stroke-width="0.3"/>
<line x1="158.97" x2="223.33" y1="405.33" y2="405.33" stroke="#e8e8e8" stroke-width="0.3"/>
<line x1="158.97" x2="223.33" y1="411.22" y2="411.22" stroke="#e8e8e8" stroke-width="0.3"/>
<line x1="158.97" x2="223.33" y1="417.11" y2="417.11" stroke="#e8e8e8" stroke-width="0.3"/>
<line x1="158.97" x2="223.33" y1="423.00" y2="423.00" stroke="#e8e8e8" stroke-width="0.3"/>
<line x1="158.97" x2="223.33" y1="428.89" y2="428.89" stroke="#e8e8e8" stroke-width="0.3"/>
<line x1="158.97" x2="223.33" y1="434.79" y2="434.79" stroke="#e8e8e8" stroke-width="0.3"/>
<line x1="158.97" x2="223.33" y1="440.68" y2="440.68" stroke="#e8e8e8" stroke-width="0.3"/>
<line x1="158.97" x2="223.33" y1="446.57" y2="446.57" stroke="#e8e8e8" stroke-width="0.3"/>
<line x1="158.97" x2="223.33" y1="452.46" y2="452.46" stroke="#e8e8e8" stroke-width="0.3"/>
<rect x="161.90" y="161.01" width="58.50" height="5.45" fill="#4d1d8a"/>
<text x="156.00" y="165.38" font-size="4.6" font-weight="bold" text-anchor="end" fill="#111" stroke="#111" stroke-width="0.1">BRCA2</text>
<rect x="161.90" y="166.90" width="53.80" height="5.45" fill="#7669af"/>
<text x="156.00" y="171.27" font-size="4.6" font-weight="bold" text-anchor="end" fill="#111" stroke="#111" stroke-width="0.1">PMAIP1</text>
<rect x="161.90" y="172.80" width="51.30" height="5.45" fill="#7e79b8"/>
<text x="156.00" y="177.17" font-size="4.6" font-weight="bold" text-anchor="end" fill="#111" stroke="#111" stroke-width="0.1">CDKN2C</text>
<rect x="161.90" y="178.69" width="51.00" height="5.45" fill="#7f7ab8"/>
<text x="156.00" y="183.06" font-size="4.6" font-weight="bold" text-anchor="end" fill="#111" stroke="#111" stroke-width="0.1">PVT1</text>
<rect x="161.90" y="184.58" width="49.60" height="5.45" fill="#827fbb"/>
<text x="156.00" y="188.95" font-size="4.6" font-weight="bold" text-anchor="end" fill="#111" stroke="#111" stroke-width="0.1">SNHG3</text>
<rect x="161.90" y="190.47" width="49.10" height="5.45" fill="#8582bc"/>
<text x="156.00" y="194.84" font-size="4.6" font-weight="bold" text-anchor="end" fill="#111" stroke="#111" stroke-width="0.1">BTG2</text>
<rect x="161.90" y="196.36" width="49.00" height="5.45" fill="#8683bd"/>
<text x="156.00" y="200.74" font-size="4.6" font-weight="bold" text-anchor="end" fill="#111" stroke="#111" stroke-width="0.1">CD248</text>
<rect x="161.90" y="202.26" width="48.50" height="5.45" fill="#8986be"/>
<text x="156.00" y="206.63" font-size="4.6" font-weight="bold" text-anchor="end" fill="#111" stroke="#111" stroke-width="0.1">GPRC5A</text>
<rect x="161.90" y="208.15" width="48.00" height="5.45" fill="#8c88bf"/>
<text x="156.00" y="212.52" font-size="4.6" font-weight="bold" text-anchor="end" fill="#111" stroke="#111" stroke-width="0.1">KRT7</text>
<rect x="161.90" y="214.04" width="48.00" height="5.45" fill="#8c88bf"/>
<text x="156.00" y="218.41" font-size="4.6" font-weight="bold" text-anchor="end" fill="#111" stroke="#111" stroke-width="0.1">RASSF5</text>
<rect x="161.90" y="219.93" width="47.50" height="5.45" fill="#8f8bc1"/>
<text x="156.00" y="224.31" font-size="4.6" font-weight="bold" text-anchor="end" fill="#111" stroke="#111" stroke-width="0.1">PRUNE2</text>
<rect x="161.90" y="225.83" width="47.10" height="5.45" fill="#918dc2"/>
<text x="156.00" y="230.20" font-size="4.6" font-weight="bold" text-anchor="end" fill="#111" stroke="#111" stroke-width="0.1">RUNX3</text>
<rect x="161.90" y="231.72" width="46.30" height="5.45" fill="#9692c4"/>
<text x="156.00" y="236.09" font-size="4.6" font-weight="bold" text-anchor="end" fill="#111" stroke="#111" stroke-width="0.1">TNFSF8</text>
<rect x="161.90" y="237.61" width="46.00" height="5.45" fill="#9794c5"/>
<text x="156.00" y="241.98" font-size="4.6" font-weight="bold" text-anchor="end" fill="#111" stroke="#111" stroke-width="0.1">MIR4435-2HG</text>
<rect x="161.90" y="243.50" width="43.80" height="5.45" fill="#a4a1cc"/>
<text x="156.00" y="247.88" font-size="4.6" font-weight="bold" text-anchor="end" fill="#111" stroke="#111" stroke-width="0.1">LRIG1</text>
<rect x="161.90" y="249.40" width="43.80" height="5.45" fill="#a4a1cc"/>
<text x="156.00" y="253.77" font-size="4.6" font-weight="bold" text-anchor="end" fill="#111" stroke="#111" stroke-width="0.1">MIR155HG</text>
<rect x="161.90" y="255.29" width="43.80" height="5.45" fill="#a4a1cc"/>
<text x="156.00" y="259.66" font-size="4.6" font-weight="bold" text-anchor="end" fill="#111" stroke="#111" stroke-width="0.1">ABCC1</text>
<rect x="161.90" y="261.18" width="43.50" height="5.45" fill="#a6a3cd"/>
<text x="156.00" y="265.55" font-size="4.6" font-weight="bold" text-anchor="end" fill="#111" stroke="#111" stroke-width="0.1">MBNL1-AS1</text>
<rect x="161.90" y="267.07" width="41.80" height="5.45" fill="#b0afd4"/>
<text x="156.00" y="271.45" font-size="4.6" font-weight="bold" text-anchor="end" fill="#111" stroke="#111" stroke-width="0.1">NKD1</text>
<rect x="161.90" y="272.97" width="41.30" height="5.45" fill="#b3b2d6"/>
<text x="156.00" y="277.34" font-size="4.6" font-weight="bold" text-anchor="end" fill="#111" stroke="#111" stroke-width="0.1">NDRG4</text>
<rect x="161.90" y="278.86" width="41.30" height="5.45" fill="#b3b2d6"/>
<text x="156.00" y="283.23" font-size="4.6" font-weight="bold" text-anchor="end" fill="#111" stroke="#111" stroke-width="0.1">MMP7</text>
<rect x="161.90" y="284.75" width="40.80" height="5.45" fill="#b6b6d8"/>
<text x="156.00" y="289.12" font-size="4.6" font-weight="bold" text-anchor="end" fill="#111" stroke="#111" stroke-width="0.1">DAPK2</text>
<rect x="161.90" y="290.64" width="40.00" height="5.45" fill="#bbbbdb"/>
<text x="156.00" y="295.02" font-size="4.6" font-weight="bold" text-anchor="end" fill="#111" stroke="#111" stroke-width="0.1">FANCE</text>
<rect x="161.90" y="296.54" width="39.20" height="5.45" fill="#bfc0de"/>
<text x="156.00" y="300.91" font-size="4.6" font-weight="bold" text-anchor="end" fill="#111" stroke="#111" stroke-width="0.1">PHGDH</text>
<rect x="161.90" y="302.43" width="38.50" height="5.45" fill="#c3c4e0"/>
<text x="156.00" y="306.80" font-size="4.6" font-weight="bold" text-anchor="end" fill="#111" stroke="#111" stroke-width="0.1">TSTD1</text>
<rect x="161.90" y="308.32" width="38.30" height="5.45" fill="#c4c5e0"/>
<text x="156.00" y="312.69" font-size="4.6" font-weight="bold" text-anchor="end" fill="#111" stroke="#111" stroke-width="0.1">RASL10B</text>
<rect x="161.90" y="314.21" width="38.00" height="5.45" fill="#c6c7e1"/>
<text x="156.00" y="318.59" font-size="4.6" font-weight="bold" text-anchor="end" fill="#111" stroke="#111" stroke-width="0.1">CD5</text>
<rect x="161.90" y="320.11" width="37.70" height="5.45" fill="#c8c8e2"/>
<text x="156.00" y="324.48" font-size="4.6" font-weight="bold" text-anchor="end" fill="#111" stroke="#111" stroke-width="0.1">EGFL6</text>
<rect x="161.90" y="326.00" width="37.20" height="5.45" fill="#cbcbe3"/>
<text x="156.00" y="330.37" font-size="4.6" font-weight="bold" text-anchor="end" fill="#111" stroke="#111" stroke-width="0.1">FAT3</text>
<rect x="161.90" y="331.89" width="36.70" height="5.45" fill="#cdcee5"/>
<text x="156.00" y="336.26" font-size="4.6" font-weight="bold" text-anchor="end" fill="#111" stroke="#111" stroke-width="0.1">SLC7A5</text>
<rect x="161.90" y="337.78" width="36.00" height="5.45" fill="#d1d1e7"/>
<text x="156.00" y="342.16" font-size="4.6" font-weight="bold" text-anchor="end" fill="#111" stroke="#111" stroke-width="0.1">ARHGEF26</text>
<rect x="161.90" y="343.68" width="35.80" height="5.45" fill="#d2d3e7"/>
<text x="156.00" y="348.05" font-size="4.6" font-weight="bold" text-anchor="end" fill="#111" stroke="#111" stroke-width="0.1">ST8SIA6</text>
<rect x="161.90" y="349.57" width="35.20" height="5.45" fill="#d6d6e9"/>
<text x="156.00" y="353.94" font-size="4.6" font-weight="bold" text-anchor="end" fill="#111" stroke="#111" stroke-width="0.1">LOXL2</text>
<rect x="161.90" y="355.46" width="34.70" height="5.45" fill="#d8d8ea"/>
<text x="156.00" y="359.83" font-size="4.6" font-weight="bold" text-anchor="end" fill="#111" stroke="#111" stroke-width="0.1">PAIP2B</text>
<rect x="161.90" y="361.35" width="34.20" height="5.45" fill="#dbdbeb"/>
<text x="156.00" y="365.72" font-size="4.6" font-weight="bold" text-anchor="end" fill="#111" stroke="#111" stroke-width="0.1">ABCC3</text>
<rect x="161.90" y="367.25" width="34.20" height="5.45" fill="#dbdbeb"/>
<text x="156.00" y="371.62" font-size="4.6" font-weight="bold" text-anchor="end" fill="#111" stroke="#111" stroke-width="0.1">DSCC1</text>
<rect x="161.90" y="373.14" width="33.80" height="5.45" fill="#dcdcec"/>
<text x="156.00" y="377.51" font-size="4.6" font-weight="bold" text-anchor="end" fill="#111" stroke="#111" stroke-width="0.1">BCYRN1</text>
<rect x="161.90" y="379.03" width="33.50" height="5.45" fill="#dedded"/>
<text x="156.00" y="383.40" font-size="4.6" font-weight="bold" text-anchor="end" fill="#111" stroke="#111" stroke-width="0.1">MFAP5</text>
<rect x="161.90" y="384.92" width="32.70" height="5.45" fill="#e1e0ee"/>
<text x="156.00" y="389.29" font-size="4.6" font-weight="bold" text-anchor="end" fill="#111" stroke="#111" stroke-width="0.1">TRAF3IP2</text>
<rect x="161.90" y="390.81" width="32.20" height="5.45" fill="#e3e2ef"/>
<text x="156.00" y="395.19" font-size="4.6" font-weight="bold" text-anchor="end" fill="#111" stroke="#111" stroke-width="0.1">FJX1</text>
<rect x="161.90" y="396.71" width="31.80" height="5.45" fill="#e4e3f0"/>
<text x="156.00" y="401.08" font-size="4.6" font-weight="bold" text-anchor="end" fill="#111" stroke="#111" stroke-width="0.1">UPP1</text>
<rect x="161.90" y="402.60" width="31.70" height="5.45" fill="#e5e4f0"/>
<text x="156.00" y="406.97" font-size="4.6" font-weight="bold" text-anchor="end" fill="#111" stroke="#111" stroke-width="0.1">AZGP1</text>
<rect x="161.90" y="408.49" width="31.40" height="5.45" fill="#e6e5f1"/>
<text x="156.00" y="412.86" font-size="4.6" font-weight="bold" text-anchor="end" fill="#111" stroke="#111" stroke-width="0.1">PIK3R5</text>
<rect x="161.90" y="414.38" width="31.00" height="5.45" fill="#e7e6f1"/>
<text x="156.00" y="418.76" font-size="4.6" font-weight="bold" text-anchor="end" fill="#111" stroke="#111" stroke-width="0.1">TMEM25</text>
<rect x="161.90" y="420.28" width="30.70" height="5.45" fill="#e8e7f2"/>
<text x="156.00" y="424.65" font-size="4.6" font-weight="bold" text-anchor="end" fill="#111" stroke="#111" stroke-width="0.1">ANKDD1A</text>
<rect x="161.90" y="426.17" width="30.40" height="5.45" fill="#eae8f2"/>
<text x="156.00" y="430.54" font-size="4.6" font-weight="bold" text-anchor="end" fill="#111" stroke="#111" stroke-width="0.1">ADAMTS15</text>
<rect x="161.90" y="432.06" width="30.00" height="5.45" fill="#ebe9f3"/>
<text x="156.00" y="436.43" font-size="4.6" font-weight="bold" text-anchor="end" fill="#111" stroke="#111" stroke-width="0.1">SLCO4A1</text>
<rect x="161.90" y="437.95" width="29.70" height="5.45" fill="#ecebf4"/>
<text x="156.00" y="442.33" font-size="4.6" font-weight="bold" text-anchor="end" fill="#111" stroke="#111" stroke-width="0.1">MAP3K5</text>
<rect x="161.90" y="443.85" width="29.40" height="5.45" fill="#edecf4"/>
<text x="156.00" y="448.22" font-size="4.6" font-weight="bold" text-anchor="end" fill="#111" stroke="#111" stroke-width="0.1">SULF1</text>
<rect x="161.90" y="449.74" width="29.00" height="5.45" fill="#efedf5"/>
<text x="156.00" y="454.11" font-size="4.6" font-weight="bold" text-anchor="end" fill="#111" stroke="#111" stroke-width="0.1">SPRED1</text>
<text x="192.05" y="468.93" font-size="5.95" font-weight="normal" text-anchor="middle" fill="#222" stroke="#222" stroke-width="0.08">OncoScore</text>
<text x="123.80" y="308.10" font-size="5.7" font-weight="normal" text-anchor="middle" fill="#222" transform="rotate(-90 123.80 308.10)" stroke="#222" stroke-width="0.08">Genes</text>
<text x="289.50" y="152.46" font-size="9.1" font-weight="bold" text-anchor="middle" fill="#111" stroke="#111" stroke-width="0.2">OBT2D vs OBF</text>
<line x1="260.00" x2="260.00" y1="160.2" y2="456.0" stroke="#e4e4e4" stroke-width="0.4"/>
<line x1="268.32" x2="268.32" y1="160.2" y2="456.0" stroke="#ececec" stroke-width="0.25"/>
<text x="260.00" y="462.05" font-size="4.6" font-weight="bold" text-anchor="middle" fill="#111" stroke="#111" stroke-width="0.1">0</text>
<line x1="276.65" x2="276.65" y1="160.2" y2="456.0" stroke="#e4e4e4" stroke-width="0.4"/>
<line x1="284.97" x2="284.97" y1="160.2" y2="456.0" stroke="#ececec" stroke-width="0.25"/>
<text x="276.65" y="462.05" font-size="4.6" font-weight="bold" text-anchor="middle" fill="#111" stroke="#111" stroke-width="0.1">20</text>
<line x1="293.30" x2="293.30" y1="160.2" y2="456.0" stroke="#e4e4e4" stroke-width="0.4"/>
<line x1="301.62" x2="301.62" y1="160.2" y2="456.0" stroke="#ececec" stroke-width="0.25"/>
<text x="293.30" y="462.05" font-size="4.6" font-weight="bold" text-anchor="middle" fill="#111" stroke="#111" stroke-width="0.1">40</text>
<line x1="309.95" x2="309.95" y1="160.2" y2="456.0" stroke="#e4e4e4" stroke-width="0.4"/>
<line x1="318.27" x2="318.27" y1="160.2" y2="456.0" stroke="#ececec" stroke-width="0.25"/>
<text x="309.95" y="462.05" font-size="4.6" font-weight="bold" text-anchor="middle" fill="#111" stroke="#111" stroke-width="0.1">60</text>
<line x1="326.60" x2="326.60" y1="160.2" y2="456.0" stroke="#e4e4e4" stroke-width="0.4"/>
<text x="326.60" y="462.05" font-size="4.6" font-weight="bold" text-anchor="middle" fill="#111" stroke="#111" stroke-width="0.1">80</text>
<line x1="256.70" x2="329.30" y1="163.74" y2="163.74" stroke="#e8e8e8" stroke-width="0.3"/>
<line x1="256.70" x2="329.30" y1="169.63" y2="169.63" stroke="#e8e8e8" stroke-width="0.3"/>
<line x1="256.70" x2="329.30" y1="175.52" y2="175.52" stroke="#e8e8e8" stroke-width="0.3"/>
<line x1="256.70" x2="329.30" y1="181.41" y2="181.41" stroke="#e8e8e8" stroke-width="0.3"/>
<line x1="256.70" x2="329.30" y1="187.31" y2="187.31" stroke="#e8e8e8" stroke-width="0.3"/>
<line x1="256.70" x2="329.30" y1="193.20" y2="193.20" stroke="#e8e8e8" stroke-width="0.3"/>
<line x1="256.70" x2="329.30" y1="199.09" y2="199.09" stroke="#e8e8e8" stroke-width="0.3"/>
<line x1="256.70" x2="329.30" y1="204.98" y2="204.98" stroke="#e8e8e8" stroke-width="0.3"/>
<line x1="256.70" x2="329.30" y1="210.87" y2="210.87" stroke="#e8e8e8" stroke-width="0.3"/>
<line x1="256.70" x2="329.30" y1="216.77" y2="216.77" stroke="#e8e8e8" stroke-width="0.3"/>
<line x1="256.70" x2="329.30" y1="222.66" y2="222.66" stroke="#e8e8e8" stroke-width="0.3"/>
<line x1="256.70" x2="329.30" y1="228.55" y2="228.55" stroke="#e8e8e8" stroke-width="0.3"/>
<line x1="256.70" x2="329.30" y1="234.44" y2="234.44" stroke="#e8e8e8" stroke-width="0.3"/>
<line x1="256.70" x2="329.30" y1="240.34" y2="240.34" stroke="#e8e8e8" stroke-width="0.3"/>
<line x1="256.70" x2="329.30" y1="246.23" y2="246.23" stroke="#e8e8e8" stroke-width="0.3"/>
<line x1="256.70" x2="329.30" y1="252.12" y2="252.12" stroke="#e8e8e8" stroke-width="0.3"/>
<line x1="256.70" x2="329.30" y1="258.01" y2="258.01" stroke="#e8e8e8" stroke-width="0.3"/>
<line x1="256.70" x2="329.30" y1="263.91" y2="263.91" stroke="#e8e8e8" stroke-width="0.3"/>
<line x1="256.70" x2="329.30" y1="269.80" y2="269.80" stroke="#e8e8e8" stroke-width="0.3"/>
<line x1="256.70" x2="329.30" y1="275.69" y2="275.69" stroke="#e8e8e8" stroke-width="0.3"/>
<line x1="256.70" x2="329.30" y1="281.58" y2="281.58" stroke="#e8e8e8" stroke-width="0.3"/>
<line x1="256.70" x2="329.30" y1="287.48" y2="287.48" stroke="#e8e8e8" stroke-width="0.3"/>
<line x1="256.70" x2="329.30" y1="293.37" y2="293.37" stroke="#e8e8e8" stroke-width="0.3"/>
<line x1="256.70" x2="329.30" y1="299.26" y2="299.26" stroke="#e8e8e8" stroke-width="0.3"/>
<line x1="256.70" x2="329.30" y1="305.15" y2="305.15" stroke="#e8e8e8" stroke-width="0.3"/>
<line x1="256.70" x2="329.30" y1="311.05" y2="311.05" stroke="#e8e8e8" stroke-width="0.3"/>
<line x1="256.70" x2="329.30" y1="316.94" y2="316.94" stroke="#e8e8e8" stroke-width="0.3"/>
<line x1="256.70" x2="329.30" y1="322.83" y2="322.83" stroke="#e8e8e8" stroke-width="0.3"/>
<line x1="256.70" x2="329.30" y1="328.72" y2="328.72" stroke="#e8e8e8" stroke-width="0.3"/>
<line x1="256.70" x2="329.30" y1="334.62" y2="334.62" stroke="#e8e8e8" stroke-width="0.3"/>
<line x1="256.70" x2="329.30" y1="340.51" y2="340.51" stroke="#e8e8e8" stroke-width="0.3"/>
<line x1="256.70" x2="329.30" y1="346.40" y2="346.40" stroke="#e8e8e8" stroke-width="0.3"/>
<line x1="256.70" x2="329.30" y1="352.29" y2="352.29" stroke="#e8e8e8" stroke-width="0.3"/>
<line x1="256.70" x2="329.30" y1="358.19" y2="358.19" stroke="#e8e8e8" stroke-width="0.3"/>
<line x1="256.70" x2="329.30" y1="364.08" y2="364.08" stroke="#e8e8e8" stroke-width="0.3"/>
<line x1="256.70" x2="329.30" y1="369.97" y2="369.97" stroke="#e8e8e8" stroke-width="0.3"/>
<line x1="256.70" x2="329.30" y1="375.86" y2="375.86" stroke="#e8e8e8" stroke-width="0.3"/>
<line x1="256.70" x2="329.30" y1="381.76" y2="381.76" stroke="#e8e8e8" stroke-width="0.3"/>
<line x1="256.70" x2="329.30" y1="387.65" y2="387.65" stroke="#e8e8e8" stroke-width="0.3"/>
<line x1="256.70" x2="329.30" y1="393.54" y2="393.54" stroke="#e8e8e8" stroke-width="0.3"/>
<line x1="256.70" x2="329.30" y1="399.43" y2="399.43" stroke="#e8e8e8" stroke-width="0.3"/>
<line x1="256.70" x2="329.30" y1="405.33" y2="405.33" stroke="#e8e8e8" stroke-width="0.3"/>
<line x1="256.70" x2="329.30" y1="411.22" y2="411.22" stroke="#e8e8e8" stroke-width="0.3"/>
<line x1="256.70" x2="329.30" y1="417.11" y2="417.11" stroke="#e8e8e8" stroke-width="0.3"/>
<line x1="256.70" x2="329.30" y1="423.00" y2="423.00" stroke="#e8e8e8" stroke-width="0.3"/>
<line x1="256.70" x2="329.30" y1="428.89" y2="428.89" stroke="#e8e8e8" stroke-width="0.3"/>
<line x1="256.70" x2="329.30" y1="434.79" y2="434.79" stroke="#e8e8e8" stroke-width="0.3"/>
<line x1="256.70" x2="329.30" y1="440.68" y2="440.68" stroke="#e8e8e8" stroke-width="0.3"/>
<line x1="256.70" x2="329.30" y1="446.57" y2="446.57" stroke="#e8e8e8" stroke-width="0.3"/>
<line x1="256.70" x2="329.30" y1="452.46" y2="452.46" stroke="#e8e8e8" stroke-width="0.3"/>
<rect x="260.00" y="161.01" width="66.00" height="5.45" fill="#006028"/>
<text x="254.20" y="165.38" font-size="4.6" font-weight="bold" text-anchor="end" fill="#111" stroke="#111" stroke-width="0.1">PMAIP1</text>
<rect x="260.00" y="166.90" width="65.10" height="5.45" fill="#04652b"/>
<text x="254.20" y="171.27" font-size="4.6" font-weight="bold" text-anchor="end" fill="#111" stroke="#111" stroke-width="0.1">NKX3-1</text>
<rect x="260.00" y="172.80" width="59.70" height="5.45" fill="#1c823f"/>
<text x="254.20" y="177.17" font-size="4.6" font-weight="bold" text-anchor="end" fill="#111" stroke="#111" stroke-width="0.1">GPRC5A</text>
<rect x="260.00" y="178.69" width="59.20" height="5.45" fill="#1e8541"/>
<text x="254.20" y="183.06" font-size="4.6" font-weight="bold" text-anchor="end" fill="#111" stroke="#111" stroke-width="0.1">LINC00312</text>
<rect x="260.00" y="184.58" width="57.10" height="5.45" fill="#278f48"/>
<text x="254.20" y="188.95" font-size="4.6" font-weight="bold" text-anchor="end" fill="#111" stroke="#111" stroke-width="0.1">DIRAS1</text>
<rect x="260.00" y="190.47" width="51.40" height="5.45" fill="#3ca659"/>
<text x="254.20" y="194.84" font-size="4.6" font-weight="bold" text-anchor="end" fill="#111" stroke="#111" stroke-width="0.1">CD22</text>
<rect x="260.00" y="196.36" width="48.60" height="5.45" fill="#4bb062"/>
<text x="254.20" y="200.74" font-size="4.6" font-weight="bold" text-anchor="end" fill="#111" stroke="#111" stroke-width="0.1">GALNT5</text>
<rect x="260.00" y="202.26" width="45.90" height="5.45" fill="#5cb86a"/>
<text x="254.20" y="206.63" font-size="4.6" font-weight="bold" text-anchor="end" fill="#111" stroke="#111" stroke-width="0.1">MAGED4</text>
<rect x="260.00" y="208.15" width="45.00" height="5.45" fill="#62bb6d"/>
<text x="254.20" y="212.52" font-size="4.6" font-weight="bold" text-anchor="end" fill="#111" stroke="#111" stroke-width="0.1">SLC7A5</text>
<rect x="260.00" y="214.04" width="44.10" height="5.45" fill="#68be70"/>
<text x="254.20" y="218.41" font-size="4.6" font-weight="bold" text-anchor="end" fill="#111" stroke="#111" stroke-width="0.1">SFRP2</text>
<rect x="260.00" y="219.93" width="44.10" height="5.45" fill="#68be70"/>
<text x="254.20" y="224.31" font-size="4.6" font-weight="bold" text-anchor="end" fill="#111" stroke="#111" stroke-width="0.1">CDH2</text>
<rect x="260.00" y="225.83" width="42.50" height="5.45" fill="#72c375"/>
<text x="254.20" y="230.20" font-size="4.6" font-weight="bold" text-anchor="end" fill="#111" stroke="#111" stroke-width="0.1">MAGED4B</text>
<rect x="260.00" y="231.72" width="41.50" height="5.45" fill="#78c679"/>
<text x="254.20" y="236.09" font-size="4.6" font-weight="bold" text-anchor="end" fill="#111" stroke="#111" stroke-width="0.1">RNU2-1</text>
<rect x="260.00" y="237.61" width="37.90" height="5.45" fill="#8ccf8a"/>
<text x="254.20" y="241.98" font-size="4.6" font-weight="bold" text-anchor="end" fill="#111" stroke="#111" stroke-width="0.1">C1QTNF6</text>
<rect x="260.00" y="243.50" width="37.60" height="5.45" fill="#8ed08b"/>
<text x="254.20" y="247.88" font-size="4.6" font-weight="bold" text-anchor="end" fill="#111" stroke="#111" stroke-width="0.1">EYA2</text>
<rect x="260.00" y="249.40" width="37.20" height="5.45" fill="#90d18d"/>
<text x="254.20" y="253.77" font-size="4.6" font-weight="bold" text-anchor="end" fill="#111" stroke="#111" stroke-width="0.1">SLC28A3</text>
<rect x="260.00" y="255.29" width="36.70" height="5.45" fill="#93d390"/>
<text x="254.20" y="259.66" font-size="4.6" font-weight="bold" text-anchor="end" fill="#111" stroke="#111" stroke-width="0.1">PYCR1</text>
<rect x="260.00" y="261.18" width="35.80" height="5.45" fill="#98d594"/>
<text x="254.20" y="265.55" font-size="4.6" font-weight="bold" text-anchor="end" fill="#111" stroke="#111" stroke-width="0.1">VEGFA</text>
<rect x="260.00" y="267.07" width="35.40" height="5.45" fill="#9bd696"/>
<text x="254.20" y="271.45" font-size="4.6" font-weight="bold" text-anchor="end" fill="#111" stroke="#111" stroke-width="0.1">PTGS2</text>
<rect x="260.00" y="272.97" width="35.40" height="5.45" fill="#9bd696"/>
<text x="254.20" y="277.34" font-size="4.6" font-weight="bold" text-anchor="end" fill="#111" stroke="#111" stroke-width="0.1">RRN3</text>
<rect x="260.00" y="278.86" width="34.90" height="5.45" fill="#9dd798"/>
<text x="254.20" y="283.23" font-size="4.6" font-weight="bold" text-anchor="end" fill="#111" stroke="#111" stroke-width="0.1">LIF</text>
<rect x="260.00" y="284.75" width="34.60" height="5.45" fill="#9fd899"/>
<text x="254.20" y="289.12" font-size="4.6" font-weight="bold" text-anchor="end" fill="#111" stroke="#111" stroke-width="0.1">RNY4</text>
<rect x="260.00" y="290.64" width="33.70" height="5.45" fill="#a4da9e"/>
<text x="254.20" y="295.02" font-size="4.6" font-weight="bold" text-anchor="end" fill="#111" stroke="#111" stroke-width="0.1">B3GNT5</text>
<rect x="260.00" y="296.54" width="33.10" height="5.45" fill="#a7dba0"/>
<text x="254.20" y="300.91" font-size="4.6" font-weight="bold" text-anchor="end" fill="#111" stroke="#111" stroke-width="0.1">CXCL8</text>
<rect x="260.00" y="302.43" width="32.80" height="5.45" fill="#a8dca2"/>
<text x="254.20" y="306.80" font-size="4.6" font-weight="bold" text-anchor="end" fill="#111" stroke="#111" stroke-width="0.1">PELI1</text>
<rect x="260.00" y="308.32" width="31.70" height="5.45" fill="#addea7"/>
<text x="254.20" y="312.69" font-size="4.6" font-weight="bold" text-anchor="end" fill="#111" stroke="#111" stroke-width="0.1">PDZRN4</text>
<rect x="260.00" y="314.21" width="31.40" height="5.45" fill="#afdfa8"/>
<text x="254.20" y="318.59" font-size="4.6" font-weight="bold" text-anchor="end" fill="#111" stroke="#111" stroke-width="0.1">SPRY2</text>
<rect x="260.00" y="320.11" width="31.00" height="5.45" fill="#b1e0aa"/>
<text x="254.20" y="324.48" font-size="4.6" font-weight="bold" text-anchor="end" fill="#111" stroke="#111" stroke-width="0.1">SNORD33</text>
<rect x="260.00" y="326.00" width="30.50" height="5.45" fill="#b3e1ad"/>
<text x="254.20" y="330.37" font-size="4.6" font-weight="bold" text-anchor="end" fill="#111" stroke="#111" stroke-width="0.1">SNORA68</text>
<rect x="260.00" y="331.89" width="30.10" height="5.45" fill="#b5e1ae"/>
<text x="254.20" y="336.26" font-size="4.6" font-weight="bold" text-anchor="end" fill="#111" stroke="#111" stroke-width="0.1">PLCXD1</text>
<rect x="260.00" y="337.78" width="29.90" height="5.45" fill="#b6e2af"/>
<text x="254.20" y="342.16" font-size="4.6" font-weight="bold" text-anchor="end" fill="#111" stroke="#111" stroke-width="0.1">ROR2</text>
<rect x="260.00" y="343.68" width="29.50" height="5.45" fill="#b8e3b1"/>
<text x="254.20" y="348.05" font-size="4.6" font-weight="bold" text-anchor="end" fill="#111" stroke="#111" stroke-width="0.1">WDR74</text>
<rect x="260.00" y="349.57" width="29.10" height="5.45" fill="#bae3b3"/>
<text x="254.20" y="353.94" font-size="4.6" font-weight="bold" text-anchor="end" fill="#111" stroke="#111" stroke-width="0.1">OLFM2</text>
<rect x="260.00" y="355.46" width="28.60" height="5.45" fill="#bce4b5"/>
<text x="254.20" y="359.83" font-size="4.6" font-weight="bold" text-anchor="end" fill="#111" stroke="#111" stroke-width="0.1">KIF26B</text>
<rect x="260.00" y="361.35" width="27.50" height="5.45" fill="#c1e7bb"/>
<text x="254.20" y="365.72" font-size="4.6" font-weight="bold" text-anchor="end" fill="#111" stroke="#111" stroke-width="0.1">CXCL11</text>
<rect x="260.00" y="367.25" width="26.80" height="5.45" fill="#c5e8be"/>
<text x="254.20" y="371.62" font-size="4.6" font-weight="bold" text-anchor="end" fill="#111" stroke="#111" stroke-width="0.1">CXCL10</text>
<rect x="260.00" y="373.14" width="26.40" height="5.45" fill="#c7e9c0"/>
<text x="254.20" y="377.51" font-size="4.6" font-weight="bold" text-anchor="end" fill="#111" stroke="#111" stroke-width="0.1">MUC20</text>
<rect x="260.00" y="379.03" width="25.70" height="5.45" fill="#caeac3"/>
<text x="254.20" y="383.40" font-size="4.6" font-weight="bold" text-anchor="end" fill="#111" stroke="#111" stroke-width="0.1">TMEM79</text>
<rect x="260.00" y="384.92" width="23.40" height="5.45" fill="#d5efcf"/>
<text x="254.20" y="389.29" font-size="4.6" font-weight="bold" text-anchor="end" fill="#111" stroke="#111" stroke-width="0.1">CCL8</text>
<rect x="260.00" y="390.81" width="23.00" height="5.45" fill="#d7efd1"/>
<text x="254.20" y="395.19" font-size="4.6" font-weight="bold" text-anchor="end" fill="#111" stroke="#111" stroke-width="0.1">RNY3</text>
<rect x="260.00" y="396.71" width="23.00" height="5.45" fill="#d7efd1"/>
<text x="254.20" y="401.08" font-size="4.6" font-weight="bold" text-anchor="end" fill="#111" stroke="#111" stroke-width="0.1">ALX4</text>
<rect x="260.00" y="402.60" width="22.70" height="5.45" fill="#d8f0d3"/>
<text x="254.20" y="406.97" font-size="4.6" font-weight="bold" text-anchor="end" fill="#111" stroke="#111" stroke-width="0.1">NRK</text>
<rect x="260.00" y="408.49" width="22.50" height="5.45" fill="#d9f0d4"/>
<text x="254.20" y="412.86" font-size="4.6" font-weight="bold" text-anchor="end" fill="#111" stroke="#111" stroke-width="0.1">NEFH</text>
<rect x="260.00" y="414.38" width="22.30" height="5.45" fill="#daf1d5"/>
<text x="254.20" y="418.76" font-size="4.6" font-weight="bold" text-anchor="end" fill="#111" stroke="#111" stroke-width="0.1">GPR78</text>
<rect x="260.00" y="420.28" width="22.00" height="5.45" fill="#dcf1d6"/>
<text x="254.20" y="424.65" font-size="4.6" font-weight="bold" text-anchor="end" fill="#111" stroke="#111" stroke-width="0.1">LEO1</text>
<rect x="260.00" y="426.17" width="21.60" height="5.45" fill="#def2d8"/>
<text x="254.20" y="430.54" font-size="4.6" font-weight="bold" text-anchor="end" fill="#111" stroke="#111" stroke-width="0.1">CDC42EP4</text>
<rect x="260.00" y="432.06" width="21.10" height="5.45" fill="#e0f3db"/>
<text x="254.20" y="436.43" font-size="4.6" font-weight="bold" text-anchor="end" fill="#111" stroke="#111" stroke-width="0.1">MEX3B</text>
<rect x="260.00" y="437.95" width="20.50" height="5.45" fill="#e3f4de"/>
<text x="254.20" y="442.33" font-size="4.6" font-weight="bold" text-anchor="end" fill="#111" stroke="#111" stroke-width="0.1">FHAD1</text>
<rect x="260.00" y="443.85" width="19.50" height="5.45" fill="#e8f6e3"/>
<text x="254.20" y="448.22" font-size="4.6" font-weight="bold" text-anchor="end" fill="#111" stroke="#111" stroke-width="0.1">RNY1</text>
<rect x="260.00" y="449.74" width="18.40" height="5.45" fill="#edf8e9"/>
<text x="254.20" y="454.11" font-size="4.6" font-weight="bold" text-anchor="end" fill="#111" stroke="#111" stroke-width="0.1">OASL</text>
<text x="293.00" y="468.93" font-size="5.95" font-weight="normal" text-anchor="middle" fill="#222" stroke="#222" stroke-width="0.08">OncoScore</text>
<text x="227.90" y="308.10" font-size="5.7" font-weight="normal" text-anchor="middle" fill="#222" transform="rotate(-90 227.90 308.10)" stroke="#222" stroke-width="0.08">Genes</text>
<text x="404.50" y="152.46" font-size="9.1" font-weight="bold" text-anchor="middle" fill="#111" stroke="#111" stroke-width="0.2">OBM vs OBF</text>
<line x1="373.00" x2="373.00" y1="160.2" y2="456.0" stroke="#e4e4e4" stroke-width="0.4"/>
<line x1="382.77" x2="382.77" y1="160.2" y2="456.0" stroke="#ececec" stroke-width="0.25"/>
<text x="373.00" y="462.05" font-size="4.6" font-weight="bold" text-anchor="middle" fill="#111" stroke="#111" stroke-width="0.1">0</text>
<line x1="392.55" x2="392.55" y1="160.2" y2="456.0" stroke="#e4e4e4" stroke-width="0.4"/>
<line x1="402.32" x2="402.32" y1="160.2" y2="456.0" stroke="#ececec" stroke-width="0.25"/>
<text x="392.55" y="462.05" font-size="4.6" font-weight="bold" text-anchor="middle" fill="#111" stroke="#111" stroke-width="0.1">20</text>
<line x1="412.10" x2="412.10" y1="160.2" y2="456.0" stroke="#e4e4e4" stroke-width="0.4"/>
<line x1="421.88" x2="421.88" y1="160.2" y2="456.0" stroke="#ececec" stroke-width="0.25"/>
<text x="412.10" y="462.05" font-size="4.6" font-weight="bold" text-anchor="middle" fill="#111" stroke="#111" stroke-width="0.1">40</text>
<line x1="431.65" x2="431.65" y1="160.2" y2="456.0" stroke="#e4e4e4" stroke-width="0.4"/>
<line x1="441.42" x2="441.42" y1="160.2" y2="456.0" stroke="#ececec" stroke-width="0.25"/>
<text x="431.65" y="462.05" font-size="4.6" font-weight="bold" text-anchor="middle" fill="#111" stroke="#111" stroke-width="0.1">60</text>
<line x1="369.71" x2="442.09" y1="171.16" y2="171.16" stroke="#e8e8e8" stroke-width="0.3"/>
<line x1="369.71" x2="442.09" y1="189.41" y2="189.41" stroke="#e8e8e8" stroke-width="0.3"/>
<line x1="369.71" x2="442.09" y1="207.67" y2="207.67" stroke="#e8e8e8" stroke-width="0.3"/>
<line x1="369.71" x2="442.09" y1="225.93" y2="225.93" stroke="#e8e8e8" stroke-width="0.3"/>
<line x1="369.71" x2="442.09" y1="244.19" y2="244.19" stroke="#e8e8e8" stroke-width="0.3"/>
<line x1="369.71" x2="442.09" y1="262.45" y2="262.45" stroke="#e8e8e8" stroke-width="0.3"/>
<line x1="369.71" x2="442.09" y1="280.71" y2="280.71" stroke="#e8e8e8" stroke-width="0.3"/>
<line x1="369.71" x2="442.09" y1="298.97" y2="298.97" stroke="#e8e8e8" stroke-width="0.3"/>
<line x1="369.71" x2="442.09" y1="317.23" y2="317.23" stroke="#e8e8e8" stroke-width="0.3"/>
<line x1="369.71" x2="442.09" y1="335.49" y2="335.49" stroke="#e8e8e8" stroke-width="0.3"/>
<line x1="369.71" x2="442.09" y1="353.75" y2="353.75" stroke="#e8e8e8" stroke-width="0.3"/>
<line x1="369.71" x2="442.09" y1="372.01" y2="372.01" stroke="#e8e8e8" stroke-width="0.3"/>
<line x1="369.71" x2="442.09" y1="390.27" y2="390.27" stroke="#e8e8e8" stroke-width="0.3"/>
<line x1="369.71" x2="442.09" y1="408.53" y2="408.53" stroke="#e8e8e8" stroke-width="0.3"/>
<line x1="369.71" x2="442.09" y1="426.79" y2="426.79" stroke="#e8e8e8" stroke-width="0.3"/>
<line x1="369.71" x2="442.09" y1="445.04" y2="445.04" stroke="#e8e8e8" stroke-width="0.3"/>
<rect x="373.00" y="162.94" width="65.80" height="16.43" fill="#9b0e13"/>
<text x="365.80" y="172.80" font-size="4.6" font-weight="bold" text-anchor="end" fill="#111" stroke="#111" stroke-width="0.1">HMGN5</text>
<rect x="373.00" y="181.20" width="64.20" height="16.43" fill="#a61015"/>
<text x="365.80" y="191.06" font-size="4.6" font-weight="bold" text-anchor="end" fill="#111" stroke="#111" stroke-width="0.1">ZRSR2</text>
<rect x="373.00" y="199.46" width="56.00" height="16.43" fill="#d72422"/>
<text x="365.80" y="209.32" font-size="4.6" font-weight="bold" text-anchor="end" fill="#111" stroke="#111" stroke-width="0.1">PHGDH</text>
<rect x="373.00" y="217.72" width="54.30" height="16.43" fill="#e02c26"/>
<text x="365.80" y="227.58" font-size="4.6" font-weight="bold" text-anchor="end" fill="#111" stroke="#111" stroke-width="0.1">PAX8-AS1</text>
<rect x="373.00" y="235.98" width="52.40" height="16.43" fill="#e9352a"/>
<text x="365.80" y="245.84" font-size="4.6" font-weight="bold" text-anchor="end" fill="#111" stroke="#111" stroke-width="0.1">TTTY15</text>
<rect x="373.00" y="254.24" width="51.80" height="16.43" fill="#ec382b"/>
<text x="365.80" y="264.10" font-size="4.6" font-weight="bold" text-anchor="end" fill="#111" stroke="#111" stroke-width="0.1">SFRP2</text>
<rect x="373.00" y="272.49" width="43.90" height="16.43" fill="#fb6a4a"/>
<text x="365.80" y="282.36" font-size="4.6" font-weight="bold" text-anchor="end" fill="#111" stroke="#111" stroke-width="0.1">JPX</text>
<rect x="373.00" y="290.75" width="42.80" height="16.43" fill="#fb7050"/>
<text x="365.80" y="300.62" font-size="4.6" font-weight="bold" text-anchor="end" fill="#111" stroke="#111" stroke-width="0.1">MXRA5</text>
<rect x="373.00" y="309.01" width="35.30" height="16.43" fill="#fc997a"/>
<text x="365.80" y="318.88" font-size="4.6" font-weight="bold" text-anchor="end" fill="#111" stroke="#111" stroke-width="0.1">ROR2</text>
<rect x="373.00" y="327.27" width="30.30" height="16.43" fill="#fcb59b"/>
<text x="365.80" y="337.14" font-size="4.6" font-weight="bold" text-anchor="end" fill="#111" stroke="#111" stroke-width="0.1">MUC20</text>
<rect x="373.00" y="345.53" width="29.50" height="16.43" fill="#fcbaa0"/>
<text x="365.80" y="355.39" font-size="4.6" font-weight="bold" text-anchor="end" fill="#111" stroke="#111" stroke-width="0.1">PI16</text>
<rect x="373.00" y="363.79" width="27.20" height="16.43" fill="#fdc6af"/>
<text x="365.80" y="373.65" font-size="4.6" font-weight="bold" text-anchor="end" fill="#111" stroke="#111" stroke-width="0.1">UTY</text>
<rect x="373.00" y="382.05" width="25.20" height="16.43" fill="#fdd0bd"/>
<text x="365.80" y="391.91" font-size="4.6" font-weight="bold" text-anchor="end" fill="#111" stroke="#111" stroke-width="0.1">IRS1</text>
<rect x="373.00" y="400.31" width="24.20" height="16.43" fill="#fdd5c3"/>
<text x="365.80" y="410.17" font-size="4.6" font-weight="bold" text-anchor="end" fill="#111" stroke="#111" stroke-width="0.1">KDM5D</text>
<rect x="373.00" y="418.57" width="23.50" height="16.43" fill="#fed8c8"/>
<text x="365.80" y="428.43" font-size="4.6" font-weight="bold" text-anchor="end" fill="#111" stroke="#111" stroke-width="0.1">XIST</text>
<rect x="373.00" y="436.83" width="22.00" height="16.43" fill="#fee0d2"/>
<text x="365.80" y="446.69" font-size="4.6" font-weight="bold" text-anchor="end" fill="#111" stroke="#111" stroke-width="0.1">SAA2</text>
<text x="405.90" y="468.93" font-size="5.95" font-weight="normal" text-anchor="middle" fill="#222" stroke="#222" stroke-width="0.08">OncoScore</text>
<text x="340.20" y="308.10" font-size="5.7" font-weight="normal" text-anchor="middle" fill="#222" transform="rotate(-90 340.20 308.10)" stroke="#222" stroke-width="0.08">Genes</text>
<line x1="17.20" y1="490.70" x2="17.20" y2="531.30" stroke="#000" stroke-width="0.8"/>
<line x1="16.80" y1="530.90" x2="120.40" y2="530.90" stroke="#000" stroke-width="0.8"/>
<line x1="16.10" y1="491.00" x2="17.20" y2="491.00" stroke="#000" stroke-width="0.6"/>
<text x="15.80" y="492.00" font-size="2.8" font-weight="bold" text-anchor="end" fill="#000" stroke="#000" stroke-width="0.08" text-rendering="geometricPrecision">10</text>
<line x1="16.10" y1="499.00" x2="17.20" y2="499.00" stroke="#000" stroke-width="0.6"/>
<text x="15.80" y="500.00" font-size="2.8" font-weight="bold" text-anchor="end" fill="#000" stroke="#000" stroke-width="0.08" text-rendering="geometricPrecision">8</text>
<line x1="16.10" y1="507.00" x2="17.20" y2="507.00" stroke="#000" stroke-width="0.6"/>
<text x="15.80" y="508.00" font-size="2.8" font-weight="bold" text-anchor="end" fill="#000" stroke="#000" stroke-width="0.08" text-rendering="geometricPrecision">6</text>
<line x1="16.10" y1="514.90" x2="17.20" y2="514.90" stroke="#000" stroke-width="0.6"/>
<text x="15.80" y="515.90" font-size="2.8" font-weight="bold" text-anchor="end" fill="#000" stroke="#000" stroke-width="0.08" text-rendering="geometricPrecision">4</text>
<line x1="16.10" y1="522.90" x2="17.20" y2="522.90" stroke="#000" stroke-width="0.6"/>
<text x="15.80" y="523.90" font-size="2.8" font-weight="bold" text-anchor="end" fill="#000" stroke="#000" stroke-width="0.08" text-rendering="geometricPrecision">2</text>
<line x1="16.10" y1="530.90" x2="17.20" y2="530.90" stroke="#000" stroke-width="0.6"/>
<text x="15.80" y="531.90" font-size="2.8" font-weight="bold" text-anchor="end" fill="#000" stroke="#000" stroke-width="0.08" text-rendering="geometricPrecision">0</text>
<text x="10.10" y="511.30" font-size="3.18" font-weight="bold" text-anchor="middle" fill="#000" transform="rotate(-90 10.10 511.30)" stroke="#000" stroke-width="0.1" text-rendering="geometricPrecision">RNA Fold Change</text>
<rect x="22.90" y="525.80" width="10.10" height="5.10" fill="#000"/>
<line x1="27.95" y1="525.80" x2="27.95" y2="524.50" stroke="#000" stroke-width="0.6"/>
<line x1="25.15" y1="524.50" x2="30.75" y2="524.50" stroke="#000" stroke-width="0.6"/>
<rect x="36.20" y="527.00" width="10.00" height="3.90" fill="#fff" stroke="#000" stroke-width="0.8"/>
<line x1="41.20" y1="526.60" x2="41.20" y2="525.70" stroke="#000" stroke-width="0.6"/>
<line x1="38.40" y1="525.70" x2="44.00" y2="525.70" stroke="#000" stroke-width="0.6"/>
<rect x="57.00" y="526.10" width="10.10" height="4.80" fill="#000"/>
<line x1="62.05" y1="526.10" x2="62.05" y2="525.30" stroke="#000" stroke-width="0.6"/>
<line x1="59.25" y1="525.30" x2="64.85" y2="525.30" stroke="#000" stroke-width="0.6"/>
<rect x="70.60" y="523.40" width="9.60" height="7.50" fill="#fff" stroke="#000" stroke-width="0.8"/>
<line x1="75.40" y1="523.00" x2="75.40" y2="519.50" stroke="#000" stroke-width="0.6"/>
<line x1="73.40" y1="519.50" x2="77.40" y2="519.50" stroke="#000" stroke-width="0.6"/>
<rect x="91.10" y="520.70" width="10.10" height="10.20" fill="#000"/>
<line x1="96.15" y1="520.70" x2="96.15" y2="513.20" stroke="#000" stroke-width="0.6"/>
<line x1="93.20" y1="513.20" x2="99.10" y2="513.20" stroke="#000" stroke-width="0.6"/>
<rect x="104.70" y="504.80" width="9.30" height="26.10" fill="#fff" stroke="#000" stroke-width="0.8"/>
<line x1="109.35" y1="504.40" x2="109.35" y2="497.10" stroke="#000" stroke-width="0.6"/>
<line x1="106.60" y1="497.10" x2="112.10" y2="497.10" stroke="#000" stroke-width="0.6"/>
<line x1="27.95" y1="530.90" x2="27.95" y2="532.20" stroke="#000" stroke-width="0.6"/>
<line x1="41.20" y1="530.90" x2="41.20" y2="532.20" stroke="#000" stroke-width="0.6"/>
<line x1="62.05" y1="530.90" x2="62.05" y2="532.20" stroke="#000" stroke-width="0.6"/>
<line x1="75.40" y1="530.90" x2="75.40" y2="532.20" stroke="#000" stroke-width="0.6"/>
<line x1="96.15" y1="530.90" x2="96.15" y2="532.20" stroke="#000" stroke-width="0.6"/>
<line x1="109.35" y1="530.90" x2="109.35" y2="532.20" stroke="#000" stroke-width="0.6"/>
<line x1="25.90" y1="534.50" x2="43.60" y2="534.50" stroke="#000" stroke-width="0.7"/>
<line x1="25.90" y1="533.40" x2="25.90" y2="535.60" stroke="#000" stroke-width="0.7"/>
<line x1="43.60" y1="533.40" x2="43.60" y2="535.60" stroke="#000" stroke-width="0.7"/>
<text x="34.90" y="538.01" font-size="3.1" font-weight="bold" text-anchor="middle" fill="#000" stroke="#000" stroke-width="0.1" text-rendering="geometricPrecision">BTG2</text>
<line x1="57.30" y1="534.50" x2="81.00" y2="534.50" stroke="#000" stroke-width="0.7"/>
<line x1="57.30" y1="533.40" x2="57.30" y2="535.60" stroke="#000" stroke-width="0.7"/>
<line x1="81.00" y1="533.40" x2="81.00" y2="535.60" stroke="#000" stroke-width="0.7"/>
<text x="68.90" y="538.01" font-size="3.1" font-weight="bold" text-anchor="middle" fill="#000" stroke="#000" stroke-width="0.1" text-rendering="geometricPrecision">ANLN</text>
<line x1="93.50" y1="534.50" x2="111.60" y2="534.50" stroke="#000" stroke-width="0.7"/>
<line x1="93.50" y1="533.40" x2="93.50" y2="535.60" stroke="#000" stroke-width="0.7"/>
<line x1="111.60" y1="533.40" x2="111.60" y2="535.60" stroke="#000" stroke-width="0.7"/>
<text x="102.80" y="538.01" font-size="3.1" font-weight="bold" text-anchor="middle" fill="#000" stroke="#000" stroke-width="0.1" text-rendering="geometricPrecision">MMP7</text>
<rect x="45.20" y="540.90" width="4.7" height="2.7" fill="#000"/>
<text x="52.10" y="543.36" font-size="3.1" font-weight="normal" text-anchor="start" fill="#000" stroke="#000" stroke-width="0.08" text-rendering="geometricPrecision">CTRL (n = 6)</text>
<rect x="74.05" y="541.15" width="4.4" height="2.3" fill="#fff" stroke="#000" stroke-width="0.6"/>
<text x="80.60" y="543.36" font-size="3.1" font-weight="normal" text-anchor="start" fill="#000" stroke="#000" stroke-width="0.08" text-rendering="geometricPrecision">OBF (n = 6)</text>
<line x1="140.10" y1="491.10" x2="140.10" y2="531.50" stroke="#000" stroke-width="0.8"/>
<line x1="139.70" y1="531.10" x2="242.50" y2="531.10" stroke="#000" stroke-width="0.8"/>
<line x1="139.00" y1="491.40" x2="140.10" y2="491.40" stroke="#000" stroke-width="0.6"/>
<text x="138.70" y="492.40" font-size="2.8" font-weight="bold" text-anchor="end" fill="#000" stroke="#000" stroke-width="0.08" text-rendering="geometricPrecision">8</text>
<line x1="139.00" y1="501.30" x2="140.10" y2="501.30" stroke="#000" stroke-width="0.6"/>
<text x="138.70" y="502.30" font-size="2.8" font-weight="bold" text-anchor="end" fill="#000" stroke="#000" stroke-width="0.08" text-rendering="geometricPrecision">6</text>
<line x1="139.00" y1="511.30" x2="140.10" y2="511.30" stroke="#000" stroke-width="0.6"/>
<text x="138.70" y="512.30" font-size="2.8" font-weight="bold" text-anchor="end" fill="#000" stroke="#000" stroke-width="0.08" text-rendering="geometricPrecision">4</text>
<line x1="139.00" y1="521.20" x2="140.10" y2="521.20" stroke="#000" stroke-width="0.6"/>
<text x="138.70" y="522.20" font-size="2.8" font-weight="bold" text-anchor="end" fill="#000" stroke="#000" stroke-width="0.08" text-rendering="geometricPrecision">2</text>
<line x1="139.00" y1="531.10" x2="140.10" y2="531.10" stroke="#000" stroke-width="0.6"/>
<text x="138.70" y="532.10" font-size="2.8" font-weight="bold" text-anchor="end" fill="#000" stroke="#000" stroke-width="0.08" text-rendering="geometricPrecision">0</text>
<text x="135.00" y="511.30" font-size="3.18" font-weight="bold" text-anchor="middle" fill="#000" transform="rotate(-90 135.00 511.30)" stroke="#000" stroke-width="0.1" text-rendering="geometricPrecision">RNA Fold Change</text>
<rect x="145.60" y="525.80" width="10.10" height="5.30" fill="#000"/>
<line x1="150.65" y1="525.80" x2="150.65" y2="525.00" stroke="#000" stroke-width="0.6"/>
<line x1="147.90" y1="525.00" x2="153.40" y2="525.00" stroke="#000" stroke-width="0.6"/>
<rect x="158.90" y="519.50" width="9.60" height="11.60" fill="#fff" stroke="#000" stroke-width="0.8"/>
<line x1="163.70" y1="519.10" x2="163.70" y2="515.60" stroke="#000" stroke-width="0.6"/>
<line x1="161.20" y1="515.60" x2="166.20" y2="515.60" stroke="#000" stroke-width="0.6"/>
<text x="163.90" y="515.22" font-size="3.4" font-weight="normal" text-anchor="middle" fill="#000" text-rendering="geometricPrecision">*</text>
<rect x="180.00" y="525.70" width="10.10" height="5.40" fill="#000"/>
<line x1="185.05" y1="525.70" x2="185.05" y2="524.60" stroke="#000" stroke-width="0.6"/>
<line x1="182.30" y1="524.60" x2="187.80" y2="524.60" stroke="#000" stroke-width="0.6"/>
<rect x="193.20" y="530.10" width="9.60" height="1.00" fill="#fff" stroke="#000" stroke-width="0.8"/>
<line x1="198.00" y1="529.70" x2="198.00" y2="527.20" stroke="#000" stroke-width="0.6"/>
<line x1="196.00" y1="527.20" x2="200.00" y2="527.20" stroke="#000" stroke-width="0.6"/>
<rect x="213.80" y="524.60" width="10.40" height="6.50" fill="#000"/>
<line x1="219.00" y1="524.60" x2="219.00" y2="522.20" stroke="#000" stroke-width="0.6"/>
<line x1="216.25" y1="522.20" x2="221.75" y2="522.20" stroke="#000" stroke-width="0.6"/>
<rect x="227.40" y="513.60" width="9.60" height="17.50" fill="#fff" stroke="#000" stroke-width="0.8"/>
<line x1="232.20" y1="513.20" x2="232.20" y2="500.50" stroke="#000" stroke-width="0.6"/>
<line x1="229.60" y1="500.50" x2="234.80" y2="500.50" stroke="#000" stroke-width="0.6"/>
<line x1="150.65" y1="531.10" x2="150.65" y2="532.40" stroke="#000" stroke-width="0.6"/>
<line x1="163.70" y1="531.10" x2="163.70" y2="532.40" stroke="#000" stroke-width="0.6"/>
<line x1="185.05" y1="531.10" x2="185.05" y2="532.40" stroke="#000" stroke-width="0.6"/>
<line x1="198.00" y1="531.10" x2="198.00" y2="532.40" stroke="#000" stroke-width="0.6"/>
<line x1="219.00" y1="531.10" x2="219.00" y2="532.40" stroke="#000" stroke-width="0.6"/>
<line x1="232.20" y1="531.10" x2="232.20" y2="532.40" stroke="#000" stroke-width="0.6"/>
<line x1="148.70" y1="534.70" x2="166.70" y2="534.70" stroke="#000" stroke-width="0.7"/>
<line x1="148.70" y1="533.60" x2="148.70" y2="535.80" stroke="#000" stroke-width="0.7"/>
<line x1="166.70" y1="533.60" x2="166.70" y2="535.80" stroke="#000" stroke-width="0.7"/>
<text x="157.20" y="538.61" font-size="3.1" font-weight="bold" text-anchor="middle" fill="#000" stroke="#000" stroke-width="0.1" text-rendering="geometricPrecision">CXCL10</text>
<line x1="179.70" y1="534.70" x2="203.70" y2="534.70" stroke="#000" stroke-width="0.7"/>
<line x1="179.70" y1="533.60" x2="179.70" y2="535.80" stroke="#000" stroke-width="0.7"/>
<line x1="203.70" y1="533.60" x2="203.70" y2="535.80" stroke="#000" stroke-width="0.7"/>
<text x="191.60" y="538.61" font-size="3.1" font-weight="bold" text-anchor="middle" fill="#000" stroke="#000" stroke-width="0.1" text-rendering="geometricPrecision">MBNL1-AS1</text>
<line x1="216.40" y1="534.70" x2="234.80" y2="534.70" stroke="#000" stroke-width="0.7"/>
<line x1="216.40" y1="533.60" x2="216.40" y2="535.80" stroke="#000" stroke-width="0.7"/>
<line x1="234.80" y1="533.60" x2="234.80" y2="535.80" stroke="#000" stroke-width="0.7"/>
<text x="225.40" y="538.61" font-size="3.1" font-weight="bold" text-anchor="middle" fill="#000" stroke="#000" stroke-width="0.1" text-rendering="geometricPrecision">CSF3</text>
<rect x="162.30" y="541.20" width="4.7" height="2.7" fill="#000"/>
<text x="169.30" y="543.66" font-size="3.1" font-weight="normal" text-anchor="start" fill="#000" stroke="#000" stroke-width="0.08" text-rendering="geometricPrecision">CTRL (n = 10)</text>
<rect x="192.45" y="541.45" width="4.4" height="2.3" fill="#fff" stroke="#000" stroke-width="0.6"/>
<text x="199.10" y="543.66" font-size="3.1" font-weight="normal" text-anchor="start" fill="#000" stroke="#000" stroke-width="0.08" text-rendering="geometricPrecision">OBT2D (n = 5)</text>
<line x1="263.70" y1="491.70" x2="263.70" y2="532.00" stroke="#000" stroke-width="0.8"/>
<line x1="263.30" y1="531.60" x2="319.00" y2="531.60" stroke="#000" stroke-width="0.8"/>
<line x1="262.60" y1="492.00" x2="263.70" y2="492.00" stroke="#000" stroke-width="0.6"/>
<text x="262.30" y="493.00" font-size="2.8" font-weight="bold" text-anchor="end" fill="#000" stroke="#000" stroke-width="0.08" text-rendering="geometricPrecision">4</text>
<line x1="262.60" y1="502.00" x2="263.70" y2="502.00" stroke="#000" stroke-width="0.6"/>
<text x="262.30" y="503.00" font-size="2.8" font-weight="bold" text-anchor="end" fill="#000" stroke="#000" stroke-width="0.08" text-rendering="geometricPrecision">3</text>
<line x1="262.60" y1="511.90" x2="263.70" y2="511.90" stroke="#000" stroke-width="0.6"/>
<text x="262.30" y="512.90" font-size="2.8" font-weight="bold" text-anchor="end" fill="#000" stroke="#000" stroke-width="0.08" text-rendering="geometricPrecision">2</text>
<line x1="262.60" y1="521.80" x2="263.70" y2="521.80" stroke="#000" stroke-width="0.6"/>
<text x="262.30" y="522.80" font-size="2.8" font-weight="bold" text-anchor="end" fill="#000" stroke="#000" stroke-width="0.08" text-rendering="geometricPrecision">1</text>
<line x1="262.60" y1="531.60" x2="263.70" y2="531.60" stroke="#000" stroke-width="0.6"/>
<text x="262.30" y="532.60" font-size="2.8" font-weight="bold" text-anchor="end" fill="#000" stroke="#000" stroke-width="0.08" text-rendering="geometricPrecision">0</text>
<text x="256.70" y="511.30" font-size="3.18" font-weight="bold" text-anchor="middle" fill="#000" transform="rotate(-90 256.70 511.30)" stroke="#000" stroke-width="0.1" text-rendering="geometricPrecision">RNA Fold Change</text>
<rect x="268.20" y="521.00" width="8.20" height="10.60" fill="#000"/>
<line x1="272.30" y1="521.00" x2="272.30" y2="518.40" stroke="#000" stroke-width="0.6"/>
<line x1="270.00" y1="518.40" x2="274.60" y2="518.40" stroke="#000" stroke-width="0.6"/>
<rect x="279.10" y="506.40" width="7.70" height="25.20" fill="#fff" stroke="#000" stroke-width="0.8"/>
<line x1="282.95" y1="506.00" x2="282.95" y2="497.10" stroke="#000" stroke-width="0.6"/>
<line x1="280.40" y1="497.10" x2="285.50" y2="497.10" stroke="#000" stroke-width="0.6"/>
<text x="282.90" y="496.42" font-size="3.4" font-weight="normal" text-anchor="middle" fill="#000" text-rendering="geometricPrecision">*</text>
<rect x="296.10" y="519.90" width="8.20" height="11.70" fill="#000"/>
<line x1="300.20" y1="519.90" x2="300.20" y2="517.30" stroke="#000" stroke-width="0.6"/>
<line x1="297.90" y1="517.30" x2="302.50" y2="517.30" stroke="#000" stroke-width="0.6"/>
<rect x="307.00" y="516.10" width="7.50" height="15.50" fill="#fff" stroke="#000" stroke-width="0.8"/>
<line x1="310.75" y1="515.70" x2="310.75" y2="512.20" stroke="#000" stroke-width="0.6"/>
<line x1="308.45" y1="512.20" x2="313.05" y2="512.20" stroke="#000" stroke-width="0.6"/>
<line x1="272.30" y1="531.60" x2="272.30" y2="532.90" stroke="#000" stroke-width="0.6"/>
<line x1="282.95" y1="531.60" x2="282.95" y2="532.90" stroke="#000" stroke-width="0.6"/>
<line x1="300.20" y1="531.60" x2="300.20" y2="532.90" stroke="#000" stroke-width="0.6"/>
<line x1="310.75" y1="531.60" x2="310.75" y2="532.90" stroke="#000" stroke-width="0.6"/>
<line x1="268.20" y1="535.00" x2="287.20" y2="535.00" stroke="#000" stroke-width="0.7"/>
<line x1="268.20" y1="533.90" x2="268.20" y2="536.10" stroke="#000" stroke-width="0.7"/>
<line x1="287.20" y1="533.90" x2="287.20" y2="536.10" stroke="#000" stroke-width="0.7"/>
<text x="277.60" y="538.91" font-size="3.1" font-weight="bold" text-anchor="middle" fill="#000" stroke="#000" stroke-width="0.1" text-rendering="geometricPrecision">CXCL10</text>
<line x1="292.70" y1="535.00" x2="316.70" y2="535.00" stroke="#000" stroke-width="0.7"/>
<line x1="292.70" y1="533.90" x2="292.70" y2="536.10" stroke="#000" stroke-width="0.7"/>
<line x1="316.70" y1="533.90" x2="316.70" y2="536.10" stroke="#000" stroke-width="0.7"/>
<text x="305.10" y="538.91" font-size="3.1" font-weight="bold" text-anchor="middle" fill="#000" stroke="#000" stroke-width="0.1" text-rendering="geometricPrecision">LINC00312</text>
<rect x="264.70" y="542.00" width="4.7" height="2.7" fill="#000"/>
<text x="271.70" y="544.46" font-size="3.1" font-weight="normal" text-anchor="start" fill="#000" stroke="#000" stroke-width="0.08" text-rendering="geometricPrecision">OBF (n = 10)</text>
<rect x="291.95" y="542.25" width="4.4" height="2.3" fill="#fff" stroke="#000" stroke-width="0.6"/>
<text x="298.40" y="544.46" font-size="3.1" font-weight="normal" text-anchor="start" fill="#000" stroke="#000" stroke-width="0.08" text-rendering="geometricPrecision">OBT2D (n = 5)</text>
<line x1="343.90" y1="490.90" x2="343.90" y2="509.50" stroke="#000" stroke-width="0.8"/>
<line x1="342.60" y1="491.20" x2="343.90" y2="491.20" stroke="#000" stroke-width="0.6"/>
<text x="342.10" y="492.35" font-size="3.2" font-weight="bold" text-anchor="end" fill="#000" stroke="#000" stroke-width="0.08" text-rendering="geometricPrecision">8000</text>
<line x1="342.60" y1="497.20" x2="343.90" y2="497.20" stroke="#000" stroke-width="0.6"/>
<text x="342.10" y="498.35" font-size="3.2" font-weight="bold" text-anchor="end" fill="#000" stroke="#000" stroke-width="0.08" text-rendering="geometricPrecision">6000</text>
<line x1="342.60" y1="503.20" x2="343.90" y2="503.20" stroke="#000" stroke-width="0.6"/>
<text x="342.10" y="504.35" font-size="3.2" font-weight="bold" text-anchor="end" fill="#000" stroke="#000" stroke-width="0.08" text-rendering="geometricPrecision">4000</text>
<line x1="342.60" y1="509.20" x2="343.90" y2="509.20" stroke="#000" stroke-width="0.6"/>
<text x="342.10" y="510.35" font-size="3.2" font-weight="bold" text-anchor="end" fill="#000" stroke="#000" stroke-width="0.08" text-rendering="geometricPrecision">2000</text>
<line x1="343.90" y1="511.80" x2="343.90" y2="531.20" stroke="#000" stroke-width="0.8"/>
<line x1="343.50" y1="530.80" x2="447.00" y2="530.80" stroke="#000" stroke-width="0.8"/>
<line x1="342.60" y1="512.60" x2="343.90" y2="512.60" stroke="#000" stroke-width="0.6"/>
<text x="342.10" y="513.75" font-size="3.2" font-weight="bold" text-anchor="end" fill="#000" stroke="#000" stroke-width="0.08" text-rendering="geometricPrecision">10</text>
<line x1="342.60" y1="516.20" x2="343.90" y2="516.20" stroke="#000" stroke-width="0.6"/>
<text x="342.10" y="517.35" font-size="3.2" font-weight="bold" text-anchor="end" fill="#000" stroke="#000" stroke-width="0.08" text-rendering="geometricPrecision">8</text>
<line x1="342.60" y1="519.90" x2="343.90" y2="519.90" stroke="#000" stroke-width="0.6"/>
<text x="342.10" y="521.05" font-size="3.2" font-weight="bold" text-anchor="end" fill="#000" stroke="#000" stroke-width="0.08" text-rendering="geometricPrecision">6</text>
<line x1="342.60" y1="523.50" x2="343.90" y2="523.50" stroke="#000" stroke-width="0.6"/>
<text x="342.10" y="524.65" font-size="3.2" font-weight="bold" text-anchor="end" fill="#000" stroke="#000" stroke-width="0.08" text-rendering="geometricPrecision">4</text>
<line x1="342.60" y1="527.10" x2="343.90" y2="527.10" stroke="#000" stroke-width="0.6"/>
<text x="342.10" y="528.25" font-size="3.2" font-weight="bold" text-anchor="end" fill="#000" stroke="#000" stroke-width="0.08" text-rendering="geometricPrecision">2</text>
<line x1="342.60" y1="530.80" x2="343.90" y2="530.80" stroke="#000" stroke-width="0.6"/>
<text x="342.10" y="531.95" font-size="3.2" font-weight="bold" text-anchor="end" fill="#000" stroke="#000" stroke-width="0.08" text-rendering="geometricPrecision">0</text>
<line x1="342.90" y1="511.20" x2="344.90" y2="510.40" stroke="#000" stroke-width="0.4"/>
<line x1="342.90" y1="512.20" x2="344.90" y2="511.40" stroke="#000" stroke-width="0.4"/>
<text x="333.90" y="511.30" font-size="3.18" font-weight="bold" text-anchor="middle" fill="#000" transform="rotate(-90 333.90 511.30)" stroke="#000" stroke-width="0.1" text-rendering="geometricPrecision">RNA Fold Change</text>
<rect x="349.50" y="521.10" width="10.00" height="9.70" fill="#000"/>
<line x1="354.50" y1="521.10" x2="354.50" y2="512.30" stroke="#000" stroke-width="0.6"/>
<line x1="351.40" y1="512.30" x2="357.60" y2="512.30" stroke="#000" stroke-width="0.6"/>
<rect x="362.60" y="498.70" width="9.30" height="32.10" fill="#fff" stroke="#000" stroke-width="0.8"/>
<line x1="367.25" y1="498.30" x2="367.25" y2="495.20" stroke="#000" stroke-width="0.6"/>
<line x1="364.55" y1="495.20" x2="369.95" y2="495.20" stroke="#000" stroke-width="0.6"/>
<text x="367.70" y="494.67" font-size="3.0" font-weight="normal" text-anchor="middle" fill="#000" text-rendering="geometricPrecision">****</text>
<rect x="383.80" y="523.50" width="9.90" height="7.30" fill="#000"/>
<line x1="388.75" y1="523.50" x2="388.75" y2="518.80" stroke="#000" stroke-width="0.6"/>
<line x1="385.80" y1="518.80" x2="391.70" y2="518.80" stroke="#000" stroke-width="0.6"/>
<line x1="396.90" y1="530.80" x2="396.90" y2="512.60" stroke="#000" stroke-width="0.8"/>
<line x1="406.70" y1="530.80" x2="406.70" y2="512.60" stroke="#000" stroke-width="0.8"/>
<path d="M396.8 509.2 L396.8 508.0 L406.8 508.0 L406.8 509.2" fill="none" stroke="#000" stroke-width="0.8"/>
<line x1="401.80" y1="508.00" x2="401.80" y2="506.60" stroke="#000" stroke-width="0.6"/>
<line x1="399.30" y1="506.60" x2="404.30" y2="506.60" stroke="#000" stroke-width="0.6"/>
<text x="401.60" y="505.67" font-size="3.0" font-weight="normal" text-anchor="middle" fill="#000" text-rendering="geometricPrecision">****</text>
<rect x="417.90" y="526.60" width="10.00" height="4.20" fill="#000"/>
<line x1="422.90" y1="526.60" x2="422.90" y2="525.80" stroke="#000" stroke-width="0.6"/>
<line x1="420.15" y1="525.80" x2="425.65" y2="525.80" stroke="#000" stroke-width="0.6"/>
<line x1="431.00" y1="530.50" x2="440.80" y2="530.50" stroke="#000" stroke-width="0.5"/>
<text x="436.10" y="529.07" font-size="3.0" font-weight="normal" text-anchor="middle" fill="#555" text-rendering="geometricPrecision">***</text>
<line x1="354.50" y1="530.80" x2="354.50" y2="532.10" stroke="#000" stroke-width="0.6"/>
<line x1="367.25" y1="530.80" x2="367.25" y2="532.10" stroke="#000" stroke-width="0.6"/>
<line x1="388.75" y1="530.80" x2="388.75" y2="532.10" stroke="#000" stroke-width="0.6"/>
<line x1="401.80" y1="530.80" x2="401.80" y2="532.10" stroke="#000" stroke-width="0.6"/>
<line x1="422.90" y1="530.80" x2="422.90" y2="532.10" stroke="#000" stroke-width="0.6"/>
<line x1="435.90" y1="530.80" x2="435.90" y2="532.10" stroke="#000" stroke-width="0.6"/>
<line x1="351.40" y1="533.50" x2="369.70" y2="533.50" stroke="#000" stroke-width="0.7"/>
<line x1="351.40" y1="532.40" x2="351.40" y2="534.60" stroke="#000" stroke-width="0.7"/>
<line x1="369.70" y1="532.40" x2="369.70" y2="534.60" stroke="#000" stroke-width="0.7"/>
<text x="360.40" y="537.31" font-size="3.1" font-weight="bold" text-anchor="middle" fill="#000" stroke="#000" stroke-width="0.1" text-rendering="geometricPrecision">TTTY15</text>
<line x1="383.30" y1="533.50" x2="407.70" y2="533.50" stroke="#000" stroke-width="0.7"/>
<line x1="383.30" y1="532.40" x2="383.30" y2="534.60" stroke="#000" stroke-width="0.7"/>
<line x1="407.70" y1="532.40" x2="407.70" y2="534.60" stroke="#000" stroke-width="0.7"/>
<text x="395.00" y="537.31" font-size="3.1" font-weight="bold" text-anchor="middle" fill="#000" stroke="#000" stroke-width="0.1" text-rendering="geometricPrecision">KDM5D</text>
<line x1="419.50" y1="533.50" x2="438.10" y2="533.50" stroke="#000" stroke-width="0.7"/>
<line x1="419.50" y1="532.40" x2="419.50" y2="534.60" stroke="#000" stroke-width="0.7"/>
<line x1="438.10" y1="532.40" x2="438.10" y2="534.60" stroke="#000" stroke-width="0.7"/>
<text x="427.60" y="537.31" font-size="3.1" font-weight="bold" text-anchor="middle" fill="#000" stroke="#000" stroke-width="0.1" text-rendering="geometricPrecision">XIST</text>
<rect x="368.10" y="540.50" width="4.7" height="2.7" fill="#000"/>
<text x="375.00" y="542.96" font-size="3.1" font-weight="normal" text-anchor="start" fill="#000" stroke="#000" stroke-width="0.08" text-rendering="geometricPrecision">OBF (n = 7)</text>
<rect x="396.55" y="540.75" width="4.4" height="2.3" fill="#fff" stroke="#000" stroke-width="0.6"/>
<text x="403.00" y="542.96" font-size="3.1" font-weight="normal" text-anchor="start" fill="#000" stroke="#000" stroke-width="0.08" text-rendering="geometricPrecision">OBM (n = 7)</text>
</g>
</svg></div>
</body></html>
